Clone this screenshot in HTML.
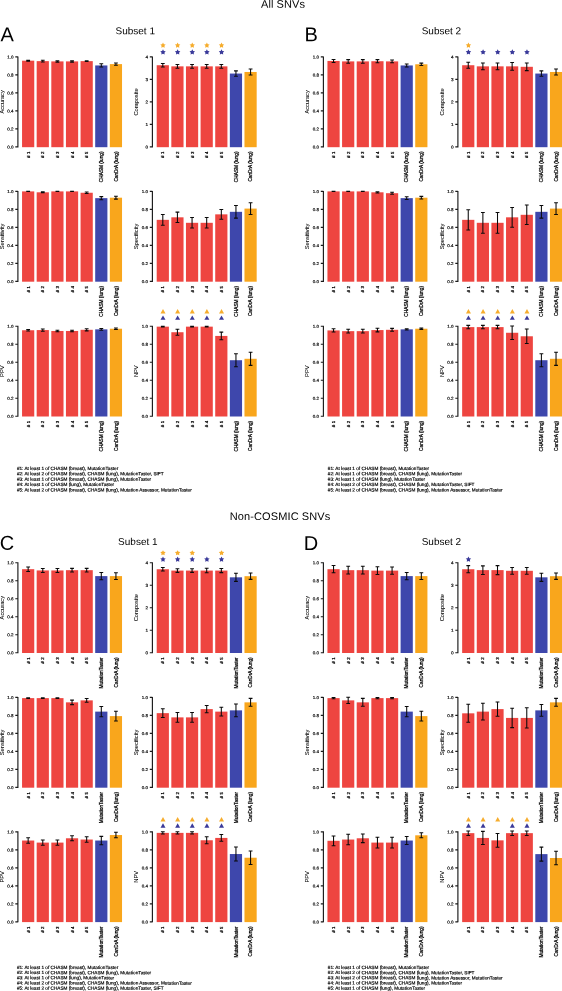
<!DOCTYPE html>
<html><head><meta charset="utf-8"><title>Figure</title>
<style>
html,body{margin:0;padding:0;background:#fff;}
svg{display:block}
svg text{font-family:"Liberation Sans",sans-serif;fill:#000;}
</style></head><body>
<svg width="562" height="991" viewBox="0 0 562 991">
<rect width="562" height="991" fill="#fff"/>
<rect x="22.05" y="60.68" width="12.2" height="86.52" fill="#ee4540"/>
<path d="M28.15 60.23V61.13M26.25 60.23h3.8M26.25 61.13h3.8" stroke="#0a0a0a" stroke-width="1.05" fill="none"/>
<rect x="36.68" y="61.13" width="12.2" height="86.07" fill="#ee4540"/>
<path d="M42.78 60.23V62.03M40.88 60.23h3.8M40.88 62.03h3.8" stroke="#0a0a0a" stroke-width="1.05" fill="none"/>
<rect x="51.31" y="61.40" width="12.2" height="85.80" fill="#ee4540"/>
<path d="M57.41 60.68V62.12M55.51 60.68h3.8M55.51 62.12h3.8" stroke="#0a0a0a" stroke-width="1.05" fill="none"/>
<rect x="65.94" y="61.40" width="12.2" height="85.80" fill="#ee4540"/>
<path d="M72.04 60.68V62.12M70.14 60.68h3.8M70.14 62.12h3.8" stroke="#0a0a0a" stroke-width="1.05" fill="none"/>
<rect x="80.57" y="61.13" width="12.2" height="86.07" fill="#ee4540"/>
<path d="M86.67 60.68V61.58M84.77 60.68h3.8M84.77 61.58h3.8" stroke="#0a0a0a" stroke-width="1.05" fill="none"/>
<rect x="95.20" y="65.45" width="12.2" height="81.75" fill="#3e47ac"/>
<path d="M101.30 63.83V67.07M99.40 63.83h3.8M99.40 67.07h3.8" stroke="#0a0a0a" stroke-width="1.05" fill="none"/>
<rect x="109.83" y="64.10" width="12.2" height="83.10" fill="#f9a61c"/>
<path d="M115.93 62.93V65.27M114.03 62.93h3.8M114.03 65.27h3.8" stroke="#0a0a0a" stroke-width="1.05" fill="none"/>
<text x="13.50" y="148.50" font-size="4.15" text-anchor="end" transform="rotate(0.03 13.50 148.50)" fill="#000" stroke="#000" stroke-width="0.16" textLength="6.3" lengthAdjust="spacingAndGlyphs">0.0</text>
<text x="13.50" y="130.50" font-size="4.15" text-anchor="end" transform="rotate(0.03 13.50 130.50)" fill="#000" stroke="#000" stroke-width="0.16" textLength="6.3" lengthAdjust="spacingAndGlyphs">0.2</text>
<text x="13.50" y="112.50" font-size="4.15" text-anchor="end" transform="rotate(0.03 13.50 112.50)" fill="#000" stroke="#000" stroke-width="0.16" textLength="6.3" lengthAdjust="spacingAndGlyphs">0.4</text>
<text x="13.50" y="94.50" font-size="4.15" text-anchor="end" transform="rotate(0.03 13.50 94.50)" fill="#000" stroke="#000" stroke-width="0.16" textLength="6.3" lengthAdjust="spacingAndGlyphs">0.6</text>
<text x="13.50" y="76.50" font-size="4.15" text-anchor="end" transform="rotate(0.03 13.50 76.50)" fill="#000" stroke="#000" stroke-width="0.16" textLength="6.3" lengthAdjust="spacingAndGlyphs">0.8</text>
<text x="13.50" y="58.50" font-size="4.15" text-anchor="end" transform="rotate(0.03 13.50 58.50)" fill="#000" stroke="#000" stroke-width="0.16" textLength="6.3" lengthAdjust="spacingAndGlyphs">1.0</text>
<path d="M17.90 56.40V147.40M15.30 146.90H17.90M15.30 128.90H17.90M15.30 110.90H17.90M15.30 92.90H17.90M15.30 74.90H17.90M15.30 56.90H17.90" stroke="#1a1a1a" stroke-width="1.15" fill="none"/>
<text x="4.00" y="101.90" font-size="5.7" text-anchor="middle" transform="rotate(-90 4.00 101.90)" stroke="#000" stroke-width="0.06">Accuracy</text>
<text x="29.70" y="157.90" font-size="4.4" text-anchor="start" transform="rotate(-90 29.70 157.90)" stroke="#000" stroke-width="0.24" textLength="6.3" lengthAdjust="spacing">#1</text>
<text x="44.33" y="157.90" font-size="4.4" text-anchor="start" transform="rotate(-90 44.33 157.90)" stroke="#000" stroke-width="0.24" textLength="6.3" lengthAdjust="spacing">#2</text>
<text x="58.96" y="157.90" font-size="4.4" text-anchor="start" transform="rotate(-90 58.96 157.90)" stroke="#000" stroke-width="0.24" textLength="6.3" lengthAdjust="spacing">#3</text>
<text x="73.59" y="157.90" font-size="4.4" text-anchor="start" transform="rotate(-90 73.59 157.90)" stroke="#000" stroke-width="0.24" textLength="6.3" lengthAdjust="spacing">#4</text>
<text x="88.22" y="157.90" font-size="4.4" text-anchor="start" transform="rotate(-90 88.22 157.90)" stroke="#000" stroke-width="0.24" textLength="6.3" lengthAdjust="spacing">#5</text>
<text x="103.00" y="151.50" font-size="4.75" text-anchor="end" transform="rotate(-90 103.00 151.50)" stroke="#000" stroke-width="0.24">CHASM (lung)</text>
<text x="117.63" y="151.50" font-size="4.75" text-anchor="end" transform="rotate(-90 117.63 151.50)" stroke="#000" stroke-width="0.24">CanDrA (lung)</text>
<rect x="156.70" y="65.23" width="12.2" height="81.97" fill="#ee4540"/>
<path d="M162.80 63.43V67.03M160.90 63.43h3.8M160.90 67.03h3.8" stroke="#0a0a0a" stroke-width="1.05" fill="none"/>
<rect x="171.33" y="66.35" width="12.2" height="80.85" fill="#ee4540"/>
<path d="M177.43 64.55V68.15M175.53 64.55h3.8M175.53 68.15h3.8" stroke="#0a0a0a" stroke-width="1.05" fill="none"/>
<rect x="185.96" y="66.35" width="12.2" height="80.85" fill="#ee4540"/>
<path d="M192.06 64.55V68.15M190.16 64.55h3.8M190.16 68.15h3.8" stroke="#0a0a0a" stroke-width="1.05" fill="none"/>
<rect x="200.59" y="66.35" width="12.2" height="80.85" fill="#ee4540"/>
<path d="M206.69 64.55V68.15M204.79 64.55h3.8M204.79 68.15h3.8" stroke="#0a0a0a" stroke-width="1.05" fill="none"/>
<rect x="215.22" y="66.35" width="12.2" height="80.85" fill="#ee4540"/>
<path d="M221.32 64.55V68.15M219.42 64.55h3.8M219.42 68.15h3.8" stroke="#0a0a0a" stroke-width="1.05" fill="none"/>
<rect x="229.85" y="73.55" width="12.2" height="73.65" fill="#3e47ac"/>
<path d="M235.95 70.85V76.25M234.05 70.85h3.8M234.05 76.25h3.8" stroke="#0a0a0a" stroke-width="1.05" fill="none"/>
<rect x="244.48" y="71.98" width="12.2" height="75.22" fill="#f9a61c"/>
<path d="M250.58 69.05V74.90M248.68 69.05h3.8M248.68 74.90h3.8" stroke="#0a0a0a" stroke-width="1.05" fill="none"/>
<text x="148.00" y="148.50" font-size="4.15" text-anchor="end" transform="rotate(0.03 148.00 148.50)" fill="#000" stroke="#000" stroke-width="0.16" textLength="2.6" lengthAdjust="spacingAndGlyphs">0</text>
<text x="148.00" y="126.00" font-size="4.15" text-anchor="end" transform="rotate(0.03 148.00 126.00)" fill="#000" stroke="#000" stroke-width="0.16" textLength="2.6" lengthAdjust="spacingAndGlyphs">1</text>
<text x="148.00" y="103.50" font-size="4.15" text-anchor="end" transform="rotate(0.03 148.00 103.50)" fill="#000" stroke="#000" stroke-width="0.16" textLength="2.6" lengthAdjust="spacingAndGlyphs">2</text>
<text x="148.00" y="81.00" font-size="4.15" text-anchor="end" transform="rotate(0.03 148.00 81.00)" fill="#000" stroke="#000" stroke-width="0.16" textLength="2.6" lengthAdjust="spacingAndGlyphs">3</text>
<text x="148.00" y="58.50" font-size="4.15" text-anchor="end" transform="rotate(0.03 148.00 58.50)" fill="#000" stroke="#000" stroke-width="0.16" textLength="2.6" lengthAdjust="spacingAndGlyphs">4</text>
<path d="M152.40 56.40V147.40M149.80 146.90H152.40M149.80 124.40H152.40M149.80 101.90H152.40M149.80 79.40H152.40M149.80 56.90H152.40" stroke="#1a1a1a" stroke-width="1.15" fill="none"/>
<text x="138.50" y="101.90" font-size="5.7" text-anchor="middle" transform="rotate(-90 138.50 101.90)" stroke="#000" stroke-width="0.06">Composite</text>
<text x="164.35" y="157.90" font-size="4.4" text-anchor="start" transform="rotate(-90 164.35 157.90)" stroke="#000" stroke-width="0.24" textLength="6.3" lengthAdjust="spacing">#1</text>
<text x="178.98" y="157.90" font-size="4.4" text-anchor="start" transform="rotate(-90 178.98 157.90)" stroke="#000" stroke-width="0.24" textLength="6.3" lengthAdjust="spacing">#2</text>
<text x="193.61" y="157.90" font-size="4.4" text-anchor="start" transform="rotate(-90 193.61 157.90)" stroke="#000" stroke-width="0.24" textLength="6.3" lengthAdjust="spacing">#3</text>
<text x="208.24" y="157.90" font-size="4.4" text-anchor="start" transform="rotate(-90 208.24 157.90)" stroke="#000" stroke-width="0.24" textLength="6.3" lengthAdjust="spacing">#4</text>
<text x="222.87" y="157.90" font-size="4.4" text-anchor="start" transform="rotate(-90 222.87 157.90)" stroke="#000" stroke-width="0.24" textLength="6.3" lengthAdjust="spacing">#5</text>
<text x="237.65" y="151.50" font-size="4.75" text-anchor="end" transform="rotate(-90 237.65 151.50)" stroke="#000" stroke-width="0.24">CHASM (lung)</text>
<text x="252.28" y="151.50" font-size="4.75" text-anchor="end" transform="rotate(-90 252.28 151.50)" stroke="#000" stroke-width="0.24">CanDrA (lung)</text>
<polygon points="163.00,42.55 163.88,44.19 165.71,44.52 164.43,45.86 164.68,47.71 163.00,46.90 161.32,47.71 161.57,45.86 160.29,44.52 162.12,44.19" fill="#f6ad2e"/>
<polygon points="177.63,42.55 178.51,44.19 180.34,44.52 179.06,45.86 179.31,47.71 177.63,46.90 175.95,47.71 176.20,45.86 174.92,44.52 176.75,44.19" fill="#f6ad2e"/>
<polygon points="192.26,42.55 193.14,44.19 194.97,44.52 193.69,45.86 193.94,47.71 192.26,46.90 190.58,47.71 190.83,45.86 189.55,44.52 191.38,44.19" fill="#f6ad2e"/>
<polygon points="206.89,42.55 207.77,44.19 209.60,44.52 208.32,45.86 208.57,47.71 206.89,46.90 205.21,47.71 205.46,45.86 204.18,44.52 206.01,44.19" fill="#f6ad2e"/>
<polygon points="221.52,42.55 222.40,44.19 224.23,44.52 222.95,45.86 223.20,47.71 221.52,46.90 219.84,47.71 220.09,45.86 218.81,44.52 220.64,44.19" fill="#f6ad2e"/>
<polygon points="163.00,49.35 163.88,50.99 165.71,51.32 164.43,52.66 164.68,54.51 163.00,53.70 161.32,54.51 161.57,52.66 160.29,51.32 162.12,50.99" fill="#3a3a9a"/>
<polygon points="177.63,49.35 178.51,50.99 180.34,51.32 179.06,52.66 179.31,54.51 177.63,53.70 175.95,54.51 176.20,52.66 174.92,51.32 176.75,50.99" fill="#3a3a9a"/>
<polygon points="192.26,49.35 193.14,50.99 194.97,51.32 193.69,52.66 193.94,54.51 192.26,53.70 190.58,54.51 190.83,52.66 189.55,51.32 191.38,50.99" fill="#3a3a9a"/>
<polygon points="206.89,49.35 207.77,50.99 209.60,51.32 208.32,52.66 208.57,54.51 206.89,53.70 205.21,54.51 205.46,52.66 204.18,51.32 206.01,50.99" fill="#3a3a9a"/>
<polygon points="221.52,49.35 222.40,50.99 224.23,51.32 222.95,52.66 223.20,54.51 221.52,53.70 219.84,54.51 220.09,52.66 218.81,51.32 220.64,50.99" fill="#3a3a9a"/>
<rect x="22.05" y="191.40" width="12.2" height="90.30" fill="#ee4540"/>
<path d="M28.15 191.22V191.58M26.25 191.22h3.8M26.25 191.58h3.8" stroke="#0a0a0a" stroke-width="1.05" fill="none"/>
<rect x="36.68" y="192.30" width="12.2" height="89.40" fill="#ee4540"/>
<path d="M42.78 191.85V192.75M40.88 191.85h3.8M40.88 192.75h3.8" stroke="#0a0a0a" stroke-width="1.05" fill="none"/>
<rect x="51.31" y="191.40" width="12.2" height="90.30" fill="#ee4540"/>
<path d="M57.41 191.22V191.58M55.51 191.22h3.8M55.51 191.58h3.8" stroke="#0a0a0a" stroke-width="1.05" fill="none"/>
<rect x="65.94" y="191.40" width="12.2" height="90.30" fill="#ee4540"/>
<path d="M72.04 191.22V191.58M70.14 191.22h3.8M70.14 191.58h3.8" stroke="#0a0a0a" stroke-width="1.05" fill="none"/>
<rect x="80.57" y="192.75" width="12.2" height="88.95" fill="#ee4540"/>
<path d="M86.67 192.03V193.47M84.77 192.03h3.8M84.77 193.47h3.8" stroke="#0a0a0a" stroke-width="1.05" fill="none"/>
<rect x="95.20" y="198.15" width="12.2" height="83.55" fill="#3e47ac"/>
<path d="M101.30 196.62V199.68M99.40 196.62h3.8M99.40 199.68h3.8" stroke="#0a0a0a" stroke-width="1.05" fill="none"/>
<rect x="109.83" y="197.70" width="12.2" height="84.00" fill="#f9a61c"/>
<path d="M115.93 196.26V199.14M114.03 196.26h3.8M114.03 199.14h3.8" stroke="#0a0a0a" stroke-width="1.05" fill="none"/>
<text x="13.50" y="283.00" font-size="4.15" text-anchor="end" transform="rotate(0.03 13.50 283.00)" fill="#000" stroke="#000" stroke-width="0.16" textLength="6.3" lengthAdjust="spacingAndGlyphs">0.0</text>
<text x="13.50" y="265.00" font-size="4.15" text-anchor="end" transform="rotate(0.03 13.50 265.00)" fill="#000" stroke="#000" stroke-width="0.16" textLength="6.3" lengthAdjust="spacingAndGlyphs">0.2</text>
<text x="13.50" y="247.00" font-size="4.15" text-anchor="end" transform="rotate(0.03 13.50 247.00)" fill="#000" stroke="#000" stroke-width="0.16" textLength="6.3" lengthAdjust="spacingAndGlyphs">0.4</text>
<text x="13.50" y="229.00" font-size="4.15" text-anchor="end" transform="rotate(0.03 13.50 229.00)" fill="#000" stroke="#000" stroke-width="0.16" textLength="6.3" lengthAdjust="spacingAndGlyphs">0.6</text>
<text x="13.50" y="211.00" font-size="4.15" text-anchor="end" transform="rotate(0.03 13.50 211.00)" fill="#000" stroke="#000" stroke-width="0.16" textLength="6.3" lengthAdjust="spacingAndGlyphs">0.8</text>
<text x="13.50" y="193.00" font-size="4.15" text-anchor="end" transform="rotate(0.03 13.50 193.00)" fill="#000" stroke="#000" stroke-width="0.16" textLength="6.3" lengthAdjust="spacingAndGlyphs">1.0</text>
<path d="M17.90 190.90V281.90M15.30 281.40H17.90M15.30 263.40H17.90M15.30 245.40H17.90M15.30 227.40H17.90M15.30 209.40H17.90M15.30 191.40H17.90" stroke="#1a1a1a" stroke-width="1.15" fill="none"/>
<text x="4.00" y="236.40" font-size="5.7" text-anchor="middle" transform="rotate(-90 4.00 236.40)" stroke="#000" stroke-width="0.06">Sensitivity</text>
<text x="29.70" y="292.40" font-size="4.4" text-anchor="start" transform="rotate(-90 29.70 292.40)" stroke="#000" stroke-width="0.24" textLength="6.3" lengthAdjust="spacing">#1</text>
<text x="44.33" y="292.40" font-size="4.4" text-anchor="start" transform="rotate(-90 44.33 292.40)" stroke="#000" stroke-width="0.24" textLength="6.3" lengthAdjust="spacing">#2</text>
<text x="58.96" y="292.40" font-size="4.4" text-anchor="start" transform="rotate(-90 58.96 292.40)" stroke="#000" stroke-width="0.24" textLength="6.3" lengthAdjust="spacing">#3</text>
<text x="73.59" y="292.40" font-size="4.4" text-anchor="start" transform="rotate(-90 73.59 292.40)" stroke="#000" stroke-width="0.24" textLength="6.3" lengthAdjust="spacing">#4</text>
<text x="88.22" y="292.40" font-size="4.4" text-anchor="start" transform="rotate(-90 88.22 292.40)" stroke="#000" stroke-width="0.24" textLength="6.3" lengthAdjust="spacing">#5</text>
<text x="103.00" y="286.00" font-size="4.75" text-anchor="end" transform="rotate(-90 103.00 286.00)" stroke="#000" stroke-width="0.24">CHASM (lung)</text>
<text x="117.63" y="286.00" font-size="4.75" text-anchor="end" transform="rotate(-90 117.63 286.00)" stroke="#000" stroke-width="0.24">CanDrA (lung)</text>
<rect x="156.70" y="219.84" width="12.2" height="61.86" fill="#ee4540"/>
<path d="M162.80 214.44V225.24M160.90 214.44h3.8M160.90 225.24h3.8" stroke="#0a0a0a" stroke-width="1.05" fill="none"/>
<rect x="171.33" y="217.32" width="12.2" height="64.38" fill="#ee4540"/>
<path d="M177.43 212.10V222.54M175.53 212.10h3.8M175.53 222.54h3.8" stroke="#0a0a0a" stroke-width="1.05" fill="none"/>
<rect x="185.96" y="222.81" width="12.2" height="58.89" fill="#ee4540"/>
<path d="M192.06 217.59V228.03M190.16 217.59h3.8M190.16 228.03h3.8" stroke="#0a0a0a" stroke-width="1.05" fill="none"/>
<rect x="200.59" y="222.81" width="12.2" height="58.89" fill="#ee4540"/>
<path d="M206.69 217.59V228.03M204.79 217.59h3.8M204.79 228.03h3.8" stroke="#0a0a0a" stroke-width="1.05" fill="none"/>
<rect x="215.22" y="214.35" width="12.2" height="67.35" fill="#ee4540"/>
<path d="M221.32 209.49V219.21M219.42 209.49h3.8M219.42 219.21h3.8" stroke="#0a0a0a" stroke-width="1.05" fill="none"/>
<rect x="229.85" y="211.83" width="12.2" height="69.87" fill="#3e47ac"/>
<path d="M235.95 205.53V218.13M234.05 205.53h3.8M234.05 218.13h3.8" stroke="#0a0a0a" stroke-width="1.05" fill="none"/>
<rect x="244.48" y="208.59" width="12.2" height="73.11" fill="#f9a61c"/>
<path d="M250.58 202.65V214.53M248.68 202.65h3.8M248.68 214.53h3.8" stroke="#0a0a0a" stroke-width="1.05" fill="none"/>
<text x="148.00" y="283.00" font-size="4.15" text-anchor="end" transform="rotate(0.03 148.00 283.00)" fill="#000" stroke="#000" stroke-width="0.16" textLength="6.3" lengthAdjust="spacingAndGlyphs">0.0</text>
<text x="148.00" y="265.00" font-size="4.15" text-anchor="end" transform="rotate(0.03 148.00 265.00)" fill="#000" stroke="#000" stroke-width="0.16" textLength="6.3" lengthAdjust="spacingAndGlyphs">0.2</text>
<text x="148.00" y="247.00" font-size="4.15" text-anchor="end" transform="rotate(0.03 148.00 247.00)" fill="#000" stroke="#000" stroke-width="0.16" textLength="6.3" lengthAdjust="spacingAndGlyphs">0.4</text>
<text x="148.00" y="229.00" font-size="4.15" text-anchor="end" transform="rotate(0.03 148.00 229.00)" fill="#000" stroke="#000" stroke-width="0.16" textLength="6.3" lengthAdjust="spacingAndGlyphs">0.6</text>
<text x="148.00" y="211.00" font-size="4.15" text-anchor="end" transform="rotate(0.03 148.00 211.00)" fill="#000" stroke="#000" stroke-width="0.16" textLength="6.3" lengthAdjust="spacingAndGlyphs">0.8</text>
<text x="148.00" y="193.00" font-size="4.15" text-anchor="end" transform="rotate(0.03 148.00 193.00)" fill="#000" stroke="#000" stroke-width="0.16" textLength="6.3" lengthAdjust="spacingAndGlyphs">1.0</text>
<path d="M152.40 190.90V281.90M149.80 281.40H152.40M149.80 263.40H152.40M149.80 245.40H152.40M149.80 227.40H152.40M149.80 209.40H152.40M149.80 191.40H152.40" stroke="#1a1a1a" stroke-width="1.15" fill="none"/>
<text x="138.50" y="236.40" font-size="5.7" text-anchor="middle" transform="rotate(-90 138.50 236.40)" stroke="#000" stroke-width="0.06">Specificity</text>
<text x="164.35" y="292.40" font-size="4.4" text-anchor="start" transform="rotate(-90 164.35 292.40)" stroke="#000" stroke-width="0.24" textLength="6.3" lengthAdjust="spacing">#1</text>
<text x="178.98" y="292.40" font-size="4.4" text-anchor="start" transform="rotate(-90 178.98 292.40)" stroke="#000" stroke-width="0.24" textLength="6.3" lengthAdjust="spacing">#2</text>
<text x="193.61" y="292.40" font-size="4.4" text-anchor="start" transform="rotate(-90 193.61 292.40)" stroke="#000" stroke-width="0.24" textLength="6.3" lengthAdjust="spacing">#3</text>
<text x="208.24" y="292.40" font-size="4.4" text-anchor="start" transform="rotate(-90 208.24 292.40)" stroke="#000" stroke-width="0.24" textLength="6.3" lengthAdjust="spacing">#4</text>
<text x="222.87" y="292.40" font-size="4.4" text-anchor="start" transform="rotate(-90 222.87 292.40)" stroke="#000" stroke-width="0.24" textLength="6.3" lengthAdjust="spacing">#5</text>
<text x="237.65" y="286.00" font-size="4.75" text-anchor="end" transform="rotate(-90 237.65 286.00)" stroke="#000" stroke-width="0.24">CHASM (lung)</text>
<text x="252.28" y="286.00" font-size="4.75" text-anchor="end" transform="rotate(-90 252.28 286.00)" stroke="#000" stroke-width="0.24">CanDrA (lung)</text>
<rect x="22.05" y="330.25" width="12.2" height="86.25" fill="#ee4540"/>
<path d="M28.15 329.53V330.97M26.25 329.53h3.8M26.25 330.97h3.8" stroke="#0a0a0a" stroke-width="1.05" fill="none"/>
<rect x="36.68" y="330.07" width="12.2" height="86.43" fill="#ee4540"/>
<path d="M42.78 328.99V331.15M40.88 328.99h3.8M40.88 331.15h3.8" stroke="#0a0a0a" stroke-width="1.05" fill="none"/>
<rect x="51.31" y="330.97" width="12.2" height="85.53" fill="#ee4540"/>
<path d="M57.41 330.25V331.69M55.51 330.25h3.8M55.51 331.69h3.8" stroke="#0a0a0a" stroke-width="1.05" fill="none"/>
<rect x="65.94" y="330.97" width="12.2" height="85.53" fill="#ee4540"/>
<path d="M72.04 330.25V331.69M70.14 330.25h3.8M70.14 331.69h3.8" stroke="#0a0a0a" stroke-width="1.05" fill="none"/>
<rect x="80.57" y="329.80" width="12.2" height="86.70" fill="#ee4540"/>
<path d="M86.67 328.72V330.88M84.77 328.72h3.8M84.77 330.88h3.8" stroke="#0a0a0a" stroke-width="1.05" fill="none"/>
<rect x="95.20" y="329.35" width="12.2" height="87.15" fill="#3e47ac"/>
<path d="M101.30 328.45V330.25M99.40 328.45h3.8M99.40 330.25h3.8" stroke="#0a0a0a" stroke-width="1.05" fill="none"/>
<rect x="109.83" y="328.72" width="12.2" height="87.78" fill="#f9a61c"/>
<path d="M115.93 328.00V329.44M114.03 328.00h3.8M114.03 329.44h3.8" stroke="#0a0a0a" stroke-width="1.05" fill="none"/>
<text x="13.50" y="417.80" font-size="4.15" text-anchor="end" transform="rotate(0.03 13.50 417.80)" fill="#000" stroke="#000" stroke-width="0.16" textLength="6.3" lengthAdjust="spacingAndGlyphs">0.0</text>
<text x="13.50" y="399.80" font-size="4.15" text-anchor="end" transform="rotate(0.03 13.50 399.80)" fill="#000" stroke="#000" stroke-width="0.16" textLength="6.3" lengthAdjust="spacingAndGlyphs">0.2</text>
<text x="13.50" y="381.80" font-size="4.15" text-anchor="end" transform="rotate(0.03 13.50 381.80)" fill="#000" stroke="#000" stroke-width="0.16" textLength="6.3" lengthAdjust="spacingAndGlyphs">0.4</text>
<text x="13.50" y="363.80" font-size="4.15" text-anchor="end" transform="rotate(0.03 13.50 363.80)" fill="#000" stroke="#000" stroke-width="0.16" textLength="6.3" lengthAdjust="spacingAndGlyphs">0.6</text>
<text x="13.50" y="345.80" font-size="4.15" text-anchor="end" transform="rotate(0.03 13.50 345.80)" fill="#000" stroke="#000" stroke-width="0.16" textLength="6.3" lengthAdjust="spacingAndGlyphs">0.8</text>
<text x="13.50" y="327.80" font-size="4.15" text-anchor="end" transform="rotate(0.03 13.50 327.80)" fill="#000" stroke="#000" stroke-width="0.16" textLength="6.3" lengthAdjust="spacingAndGlyphs">1.0</text>
<path d="M17.90 325.70V416.70M15.30 416.20H17.90M15.30 398.20H17.90M15.30 380.20H17.90M15.30 362.20H17.90M15.30 344.20H17.90M15.30 326.20H17.90" stroke="#1a1a1a" stroke-width="1.15" fill="none"/>
<text x="4.00" y="371.20" font-size="5.7" text-anchor="middle" transform="rotate(-90 4.00 371.20)" stroke="#000" stroke-width="0.06">PPV</text>
<text x="29.70" y="427.20" font-size="4.4" text-anchor="start" transform="rotate(-90 29.70 427.20)" stroke="#000" stroke-width="0.24" textLength="6.3" lengthAdjust="spacing">#1</text>
<text x="44.33" y="427.20" font-size="4.4" text-anchor="start" transform="rotate(-90 44.33 427.20)" stroke="#000" stroke-width="0.24" textLength="6.3" lengthAdjust="spacing">#2</text>
<text x="58.96" y="427.20" font-size="4.4" text-anchor="start" transform="rotate(-90 58.96 427.20)" stroke="#000" stroke-width="0.24" textLength="6.3" lengthAdjust="spacing">#3</text>
<text x="73.59" y="427.20" font-size="4.4" text-anchor="start" transform="rotate(-90 73.59 427.20)" stroke="#000" stroke-width="0.24" textLength="6.3" lengthAdjust="spacing">#4</text>
<text x="88.22" y="427.20" font-size="4.4" text-anchor="start" transform="rotate(-90 88.22 427.20)" stroke="#000" stroke-width="0.24" textLength="6.3" lengthAdjust="spacing">#5</text>
<text x="103.00" y="420.80" font-size="4.75" text-anchor="end" transform="rotate(-90 103.00 420.80)" stroke="#000" stroke-width="0.24">CHASM (lung)</text>
<text x="117.63" y="420.80" font-size="4.75" text-anchor="end" transform="rotate(-90 117.63 420.80)" stroke="#000" stroke-width="0.24">CanDrA (lung)</text>
<rect x="156.70" y="326.65" width="12.2" height="89.85" fill="#ee4540"/>
<path d="M162.80 326.29V327.01M160.90 326.29h3.8M160.90 327.01h3.8" stroke="#0a0a0a" stroke-width="1.05" fill="none"/>
<rect x="171.33" y="332.23" width="12.2" height="84.27" fill="#ee4540"/>
<path d="M177.43 329.26V335.20M175.53 329.26h3.8M175.53 335.20h3.8" stroke="#0a0a0a" stroke-width="1.05" fill="none"/>
<rect x="185.96" y="326.65" width="12.2" height="89.85" fill="#ee4540"/>
<path d="M192.06 326.29V327.01M190.16 326.29h3.8M190.16 327.01h3.8" stroke="#0a0a0a" stroke-width="1.05" fill="none"/>
<rect x="200.59" y="326.65" width="12.2" height="89.85" fill="#ee4540"/>
<path d="M206.69 326.29V327.01M204.79 326.29h3.8M204.79 327.01h3.8" stroke="#0a0a0a" stroke-width="1.05" fill="none"/>
<rect x="215.22" y="335.92" width="12.2" height="80.58" fill="#ee4540"/>
<path d="M221.32 332.14V339.70M219.42 332.14h3.8M219.42 339.70h3.8" stroke="#0a0a0a" stroke-width="1.05" fill="none"/>
<rect x="229.85" y="360.22" width="12.2" height="56.28" fill="#3e47ac"/>
<path d="M235.95 353.65V366.79M234.05 353.65h3.8M234.05 366.79h3.8" stroke="#0a0a0a" stroke-width="1.05" fill="none"/>
<rect x="244.48" y="358.78" width="12.2" height="57.72" fill="#f9a61c"/>
<path d="M250.58 352.21V365.35M248.68 352.21h3.8M248.68 365.35h3.8" stroke="#0a0a0a" stroke-width="1.05" fill="none"/>
<text x="148.00" y="417.80" font-size="4.15" text-anchor="end" transform="rotate(0.03 148.00 417.80)" fill="#000" stroke="#000" stroke-width="0.16" textLength="6.3" lengthAdjust="spacingAndGlyphs">0.0</text>
<text x="148.00" y="399.80" font-size="4.15" text-anchor="end" transform="rotate(0.03 148.00 399.80)" fill="#000" stroke="#000" stroke-width="0.16" textLength="6.3" lengthAdjust="spacingAndGlyphs">0.2</text>
<text x="148.00" y="381.80" font-size="4.15" text-anchor="end" transform="rotate(0.03 148.00 381.80)" fill="#000" stroke="#000" stroke-width="0.16" textLength="6.3" lengthAdjust="spacingAndGlyphs">0.4</text>
<text x="148.00" y="363.80" font-size="4.15" text-anchor="end" transform="rotate(0.03 148.00 363.80)" fill="#000" stroke="#000" stroke-width="0.16" textLength="6.3" lengthAdjust="spacingAndGlyphs">0.6</text>
<text x="148.00" y="345.80" font-size="4.15" text-anchor="end" transform="rotate(0.03 148.00 345.80)" fill="#000" stroke="#000" stroke-width="0.16" textLength="6.3" lengthAdjust="spacingAndGlyphs">0.8</text>
<text x="148.00" y="327.80" font-size="4.15" text-anchor="end" transform="rotate(0.03 148.00 327.80)" fill="#000" stroke="#000" stroke-width="0.16" textLength="6.3" lengthAdjust="spacingAndGlyphs">1.0</text>
<path d="M152.40 325.70V416.70M149.80 416.20H152.40M149.80 398.20H152.40M149.80 380.20H152.40M149.80 362.20H152.40M149.80 344.20H152.40M149.80 326.20H152.40" stroke="#1a1a1a" stroke-width="1.15" fill="none"/>
<text x="138.50" y="371.20" font-size="5.7" text-anchor="middle" transform="rotate(-90 138.50 371.20)" stroke="#000" stroke-width="0.06">NPV</text>
<text x="164.35" y="427.20" font-size="4.4" text-anchor="start" transform="rotate(-90 164.35 427.20)" stroke="#000" stroke-width="0.24" textLength="6.3" lengthAdjust="spacing">#1</text>
<text x="178.98" y="427.20" font-size="4.4" text-anchor="start" transform="rotate(-90 178.98 427.20)" stroke="#000" stroke-width="0.24" textLength="6.3" lengthAdjust="spacing">#2</text>
<text x="193.61" y="427.20" font-size="4.4" text-anchor="start" transform="rotate(-90 193.61 427.20)" stroke="#000" stroke-width="0.24" textLength="6.3" lengthAdjust="spacing">#3</text>
<text x="208.24" y="427.20" font-size="4.4" text-anchor="start" transform="rotate(-90 208.24 427.20)" stroke="#000" stroke-width="0.24" textLength="6.3" lengthAdjust="spacing">#4</text>
<text x="222.87" y="427.20" font-size="4.4" text-anchor="start" transform="rotate(-90 222.87 427.20)" stroke="#000" stroke-width="0.24" textLength="6.3" lengthAdjust="spacing">#5</text>
<text x="237.65" y="420.80" font-size="4.75" text-anchor="end" transform="rotate(-90 237.65 420.80)" stroke="#000" stroke-width="0.24">CHASM (lung)</text>
<text x="252.28" y="420.80" font-size="4.75" text-anchor="end" transform="rotate(-90 252.28 420.80)" stroke="#000" stroke-width="0.24">CanDrA (lung)</text>
<polygon points="163.00,309.10 165.50,313.50 160.50,313.50" fill="#f6ad2e"/>
<polygon points="177.63,309.10 180.13,313.50 175.13,313.50" fill="#f6ad2e"/>
<polygon points="192.26,309.10 194.76,313.50 189.76,313.50" fill="#f6ad2e"/>
<polygon points="206.89,309.10 209.39,313.50 204.39,313.50" fill="#f6ad2e"/>
<polygon points="221.52,309.10 224.02,313.50 219.02,313.50" fill="#f6ad2e"/>
<polygon points="163.00,315.40 165.50,319.80 160.50,319.80" fill="#3a3a9a"/>
<polygon points="177.63,315.40 180.13,319.80 175.13,319.80" fill="#3a3a9a"/>
<polygon points="192.26,315.40 194.76,319.80 189.76,319.80" fill="#3a3a9a"/>
<polygon points="206.89,315.40 209.39,319.80 204.39,319.80" fill="#3a3a9a"/>
<polygon points="221.52,315.40 224.02,319.80 219.02,319.80" fill="#3a3a9a"/>
<rect x="327.45" y="60.95" width="12.2" height="86.25" fill="#ee4540"/>
<path d="M333.55 59.42V62.48M331.65 59.42h3.8M331.65 62.48h3.8" stroke="#0a0a0a" stroke-width="1.05" fill="none"/>
<rect x="342.08" y="61.40" width="12.2" height="85.80" fill="#ee4540"/>
<path d="M348.18 59.60V63.20M346.28 59.60h3.8M346.28 63.20h3.8" stroke="#0a0a0a" stroke-width="1.05" fill="none"/>
<rect x="356.71" y="61.40" width="12.2" height="85.80" fill="#ee4540"/>
<path d="M362.81 59.60V63.20M360.91 59.60h3.8M360.91 63.20h3.8" stroke="#0a0a0a" stroke-width="1.05" fill="none"/>
<rect x="371.34" y="61.22" width="12.2" height="85.98" fill="#ee4540"/>
<path d="M377.44 59.60V62.84M375.54 59.60h3.8M375.54 62.84h3.8" stroke="#0a0a0a" stroke-width="1.05" fill="none"/>
<rect x="385.97" y="61.40" width="12.2" height="85.80" fill="#ee4540"/>
<path d="M392.07 59.96V62.84M390.17 59.96h3.8M390.17 62.84h3.8" stroke="#0a0a0a" stroke-width="1.05" fill="none"/>
<rect x="400.60" y="65.45" width="12.2" height="81.75" fill="#3e47ac"/>
<path d="M406.70 63.92V66.98M404.80 63.92h3.8M404.80 66.98h3.8" stroke="#0a0a0a" stroke-width="1.05" fill="none"/>
<rect x="415.23" y="64.28" width="12.2" height="82.92" fill="#f9a61c"/>
<path d="M421.33 63.11V65.45M419.43 63.11h3.8M419.43 65.45h3.8" stroke="#0a0a0a" stroke-width="1.05" fill="none"/>
<text x="319.00" y="148.50" font-size="4.15" text-anchor="end" transform="rotate(0.03 319.00 148.50)" fill="#000" stroke="#000" stroke-width="0.16" textLength="6.3" lengthAdjust="spacingAndGlyphs">0.0</text>
<text x="319.00" y="130.50" font-size="4.15" text-anchor="end" transform="rotate(0.03 319.00 130.50)" fill="#000" stroke="#000" stroke-width="0.16" textLength="6.3" lengthAdjust="spacingAndGlyphs">0.2</text>
<text x="319.00" y="112.50" font-size="4.15" text-anchor="end" transform="rotate(0.03 319.00 112.50)" fill="#000" stroke="#000" stroke-width="0.16" textLength="6.3" lengthAdjust="spacingAndGlyphs">0.4</text>
<text x="319.00" y="94.50" font-size="4.15" text-anchor="end" transform="rotate(0.03 319.00 94.50)" fill="#000" stroke="#000" stroke-width="0.16" textLength="6.3" lengthAdjust="spacingAndGlyphs">0.6</text>
<text x="319.00" y="76.50" font-size="4.15" text-anchor="end" transform="rotate(0.03 319.00 76.50)" fill="#000" stroke="#000" stroke-width="0.16" textLength="6.3" lengthAdjust="spacingAndGlyphs">0.8</text>
<text x="319.00" y="58.50" font-size="4.15" text-anchor="end" transform="rotate(0.03 319.00 58.50)" fill="#000" stroke="#000" stroke-width="0.16" textLength="6.3" lengthAdjust="spacingAndGlyphs">1.0</text>
<path d="M323.40 56.40V147.40M320.80 146.90H323.40M320.80 128.90H323.40M320.80 110.90H323.40M320.80 92.90H323.40M320.80 74.90H323.40M320.80 56.90H323.40" stroke="#1a1a1a" stroke-width="1.15" fill="none"/>
<text x="309.50" y="101.90" font-size="5.7" text-anchor="middle" transform="rotate(-90 309.50 101.90)" stroke="#000" stroke-width="0.06">Accuracy</text>
<text x="335.10" y="157.90" font-size="4.4" text-anchor="start" transform="rotate(-90 335.10 157.90)" stroke="#000" stroke-width="0.24" textLength="6.3" lengthAdjust="spacing">#1</text>
<text x="349.73" y="157.90" font-size="4.4" text-anchor="start" transform="rotate(-90 349.73 157.90)" stroke="#000" stroke-width="0.24" textLength="6.3" lengthAdjust="spacing">#2</text>
<text x="364.36" y="157.90" font-size="4.4" text-anchor="start" transform="rotate(-90 364.36 157.90)" stroke="#000" stroke-width="0.24" textLength="6.3" lengthAdjust="spacing">#3</text>
<text x="378.99" y="157.90" font-size="4.4" text-anchor="start" transform="rotate(-90 378.99 157.90)" stroke="#000" stroke-width="0.24" textLength="6.3" lengthAdjust="spacing">#4</text>
<text x="393.62" y="157.90" font-size="4.4" text-anchor="start" transform="rotate(-90 393.62 157.90)" stroke="#000" stroke-width="0.24" textLength="6.3" lengthAdjust="spacing">#5</text>
<text x="408.40" y="151.50" font-size="4.75" text-anchor="end" transform="rotate(-90 408.40 151.50)" stroke="#000" stroke-width="0.24">CHASM (lung)</text>
<text x="423.03" y="151.50" font-size="4.75" text-anchor="end" transform="rotate(-90 423.03 151.50)" stroke="#000" stroke-width="0.24">CanDrA (lung)</text>
<rect x="462.15" y="65.23" width="12.2" height="81.97" fill="#ee4540"/>
<path d="M468.25 62.17V68.29M466.35 62.17h3.8M466.35 68.29h3.8" stroke="#0a0a0a" stroke-width="1.05" fill="none"/>
<rect x="476.78" y="66.35" width="12.2" height="80.85" fill="#ee4540"/>
<path d="M482.88 62.98V69.73M480.98 62.98h3.8M480.98 69.73h3.8" stroke="#0a0a0a" stroke-width="1.05" fill="none"/>
<rect x="491.41" y="66.35" width="12.2" height="80.85" fill="#ee4540"/>
<path d="M497.51 62.98V69.73M495.61 62.98h3.8M495.61 69.73h3.8" stroke="#0a0a0a" stroke-width="1.05" fill="none"/>
<rect x="506.04" y="66.35" width="12.2" height="80.85" fill="#ee4540"/>
<path d="M512.14 62.53V70.18M510.24 62.53h3.8M510.24 70.18h3.8" stroke="#0a0a0a" stroke-width="1.05" fill="none"/>
<rect x="520.67" y="66.80" width="12.2" height="80.40" fill="#ee4540"/>
<path d="M526.77 62.98V70.63M524.87 62.98h3.8M524.87 70.63h3.8" stroke="#0a0a0a" stroke-width="1.05" fill="none"/>
<rect x="535.30" y="73.55" width="12.2" height="73.65" fill="#3e47ac"/>
<path d="M541.40 70.85V76.25M539.50 70.85h3.8M539.50 76.25h3.8" stroke="#0a0a0a" stroke-width="1.05" fill="none"/>
<rect x="549.93" y="71.98" width="12.2" height="75.22" fill="#f9a61c"/>
<path d="M556.03 69.05V74.90M554.13 69.05h3.8M554.13 74.90h3.8" stroke="#0a0a0a" stroke-width="1.05" fill="none"/>
<text x="453.50" y="148.50" font-size="4.15" text-anchor="end" transform="rotate(0.03 453.50 148.50)" fill="#000" stroke="#000" stroke-width="0.16" textLength="2.6" lengthAdjust="spacingAndGlyphs">0</text>
<text x="453.50" y="126.00" font-size="4.15" text-anchor="end" transform="rotate(0.03 453.50 126.00)" fill="#000" stroke="#000" stroke-width="0.16" textLength="2.6" lengthAdjust="spacingAndGlyphs">1</text>
<text x="453.50" y="103.50" font-size="4.15" text-anchor="end" transform="rotate(0.03 453.50 103.50)" fill="#000" stroke="#000" stroke-width="0.16" textLength="2.6" lengthAdjust="spacingAndGlyphs">2</text>
<text x="453.50" y="81.00" font-size="4.15" text-anchor="end" transform="rotate(0.03 453.50 81.00)" fill="#000" stroke="#000" stroke-width="0.16" textLength="2.6" lengthAdjust="spacingAndGlyphs">3</text>
<text x="453.50" y="58.50" font-size="4.15" text-anchor="end" transform="rotate(0.03 453.50 58.50)" fill="#000" stroke="#000" stroke-width="0.16" textLength="2.6" lengthAdjust="spacingAndGlyphs">4</text>
<path d="M457.90 56.40V147.40M455.30 146.90H457.90M455.30 124.40H457.90M455.30 101.90H457.90M455.30 79.40H457.90M455.30 56.90H457.90" stroke="#1a1a1a" stroke-width="1.15" fill="none"/>
<text x="444.00" y="101.90" font-size="5.7" text-anchor="middle" transform="rotate(-90 444.00 101.90)" stroke="#000" stroke-width="0.06">Composite</text>
<text x="469.80" y="157.90" font-size="4.4" text-anchor="start" transform="rotate(-90 469.80 157.90)" stroke="#000" stroke-width="0.24" textLength="6.3" lengthAdjust="spacing">#1</text>
<text x="484.43" y="157.90" font-size="4.4" text-anchor="start" transform="rotate(-90 484.43 157.90)" stroke="#000" stroke-width="0.24" textLength="6.3" lengthAdjust="spacing">#2</text>
<text x="499.06" y="157.90" font-size="4.4" text-anchor="start" transform="rotate(-90 499.06 157.90)" stroke="#000" stroke-width="0.24" textLength="6.3" lengthAdjust="spacing">#3</text>
<text x="513.69" y="157.90" font-size="4.4" text-anchor="start" transform="rotate(-90 513.69 157.90)" stroke="#000" stroke-width="0.24" textLength="6.3" lengthAdjust="spacing">#4</text>
<text x="528.32" y="157.90" font-size="4.4" text-anchor="start" transform="rotate(-90 528.32 157.90)" stroke="#000" stroke-width="0.24" textLength="6.3" lengthAdjust="spacing">#5</text>
<text x="543.10" y="151.50" font-size="4.75" text-anchor="end" transform="rotate(-90 543.10 151.50)" stroke="#000" stroke-width="0.24">CHASM (lung)</text>
<text x="557.73" y="151.50" font-size="4.75" text-anchor="end" transform="rotate(-90 557.73 151.50)" stroke="#000" stroke-width="0.24">CanDrA (lung)</text>
<polygon points="468.45,42.55 469.33,44.19 471.16,44.52 469.88,45.86 470.13,47.71 468.45,46.90 466.77,47.71 467.02,45.86 465.74,44.52 467.57,44.19" fill="#f6ad2e"/>
<polygon points="468.45,49.35 469.33,50.99 471.16,51.32 469.88,52.66 470.13,54.51 468.45,53.70 466.77,54.51 467.02,52.66 465.74,51.32 467.57,50.99" fill="#3a3a9a"/>
<polygon points="483.08,49.35 483.96,50.99 485.79,51.32 484.51,52.66 484.76,54.51 483.08,53.70 481.40,54.51 481.65,52.66 480.37,51.32 482.20,50.99" fill="#3a3a9a"/>
<polygon points="497.71,49.35 498.59,50.99 500.42,51.32 499.14,52.66 499.39,54.51 497.71,53.70 496.03,54.51 496.28,52.66 495.00,51.32 496.83,50.99" fill="#3a3a9a"/>
<polygon points="512.34,49.35 513.22,50.99 515.05,51.32 513.77,52.66 514.02,54.51 512.34,53.70 510.66,54.51 510.91,52.66 509.63,51.32 511.46,50.99" fill="#3a3a9a"/>
<polygon points="526.97,49.35 527.85,50.99 529.68,51.32 528.40,52.66 528.65,54.51 526.97,53.70 525.29,54.51 525.54,52.66 524.26,51.32 526.09,50.99" fill="#3a3a9a"/>
<rect x="327.45" y="191.40" width="12.2" height="90.30" fill="#ee4540"/>
<path d="M333.55 191.22V191.58M331.65 191.22h3.8M331.65 191.58h3.8" stroke="#0a0a0a" stroke-width="1.05" fill="none"/>
<rect x="342.08" y="191.40" width="12.2" height="90.30" fill="#ee4540"/>
<path d="M348.18 191.22V191.58M346.28 191.22h3.8M346.28 191.58h3.8" stroke="#0a0a0a" stroke-width="1.05" fill="none"/>
<rect x="356.71" y="191.40" width="12.2" height="90.30" fill="#ee4540"/>
<path d="M362.81 191.22V191.58M360.91 191.22h3.8M360.91 191.58h3.8" stroke="#0a0a0a" stroke-width="1.05" fill="none"/>
<rect x="371.34" y="192.30" width="12.2" height="89.40" fill="#ee4540"/>
<path d="M377.44 191.67V192.93M375.54 191.67h3.8M375.54 192.93h3.8" stroke="#0a0a0a" stroke-width="1.05" fill="none"/>
<rect x="385.97" y="193.20" width="12.2" height="88.50" fill="#ee4540"/>
<path d="M392.07 192.21V194.19M390.17 192.21h3.8M390.17 194.19h3.8" stroke="#0a0a0a" stroke-width="1.05" fill="none"/>
<rect x="400.60" y="198.15" width="12.2" height="83.55" fill="#3e47ac"/>
<path d="M406.70 196.71V199.59M404.80 196.71h3.8M404.80 199.59h3.8" stroke="#0a0a0a" stroke-width="1.05" fill="none"/>
<rect x="415.23" y="197.70" width="12.2" height="84.00" fill="#f9a61c"/>
<path d="M421.33 196.35V199.05M419.43 196.35h3.8M419.43 199.05h3.8" stroke="#0a0a0a" stroke-width="1.05" fill="none"/>
<text x="319.00" y="283.00" font-size="4.15" text-anchor="end" transform="rotate(0.03 319.00 283.00)" fill="#000" stroke="#000" stroke-width="0.16" textLength="6.3" lengthAdjust="spacingAndGlyphs">0.0</text>
<text x="319.00" y="265.00" font-size="4.15" text-anchor="end" transform="rotate(0.03 319.00 265.00)" fill="#000" stroke="#000" stroke-width="0.16" textLength="6.3" lengthAdjust="spacingAndGlyphs">0.2</text>
<text x="319.00" y="247.00" font-size="4.15" text-anchor="end" transform="rotate(0.03 319.00 247.00)" fill="#000" stroke="#000" stroke-width="0.16" textLength="6.3" lengthAdjust="spacingAndGlyphs">0.4</text>
<text x="319.00" y="229.00" font-size="4.15" text-anchor="end" transform="rotate(0.03 319.00 229.00)" fill="#000" stroke="#000" stroke-width="0.16" textLength="6.3" lengthAdjust="spacingAndGlyphs">0.6</text>
<text x="319.00" y="211.00" font-size="4.15" text-anchor="end" transform="rotate(0.03 319.00 211.00)" fill="#000" stroke="#000" stroke-width="0.16" textLength="6.3" lengthAdjust="spacingAndGlyphs">0.8</text>
<text x="319.00" y="193.00" font-size="4.15" text-anchor="end" transform="rotate(0.03 319.00 193.00)" fill="#000" stroke="#000" stroke-width="0.16" textLength="6.3" lengthAdjust="spacingAndGlyphs">1.0</text>
<path d="M323.40 190.90V281.90M320.80 281.40H323.40M320.80 263.40H323.40M320.80 245.40H323.40M320.80 227.40H323.40M320.80 209.40H323.40M320.80 191.40H323.40" stroke="#1a1a1a" stroke-width="1.15" fill="none"/>
<text x="309.50" y="236.40" font-size="5.7" text-anchor="middle" transform="rotate(-90 309.50 236.40)" stroke="#000" stroke-width="0.06">Sensitivity</text>
<text x="335.10" y="292.40" font-size="4.4" text-anchor="start" transform="rotate(-90 335.10 292.40)" stroke="#000" stroke-width="0.24" textLength="6.3" lengthAdjust="spacing">#1</text>
<text x="349.73" y="292.40" font-size="4.4" text-anchor="start" transform="rotate(-90 349.73 292.40)" stroke="#000" stroke-width="0.24" textLength="6.3" lengthAdjust="spacing">#2</text>
<text x="364.36" y="292.40" font-size="4.4" text-anchor="start" transform="rotate(-90 364.36 292.40)" stroke="#000" stroke-width="0.24" textLength="6.3" lengthAdjust="spacing">#3</text>
<text x="378.99" y="292.40" font-size="4.4" text-anchor="start" transform="rotate(-90 378.99 292.40)" stroke="#000" stroke-width="0.24" textLength="6.3" lengthAdjust="spacing">#4</text>
<text x="393.62" y="292.40" font-size="4.4" text-anchor="start" transform="rotate(-90 393.62 292.40)" stroke="#000" stroke-width="0.24" textLength="6.3" lengthAdjust="spacing">#5</text>
<text x="408.40" y="286.00" font-size="4.75" text-anchor="end" transform="rotate(-90 408.40 286.00)" stroke="#000" stroke-width="0.24">CHASM (lung)</text>
<text x="423.03" y="286.00" font-size="4.75" text-anchor="end" transform="rotate(-90 423.03 286.00)" stroke="#000" stroke-width="0.24">CanDrA (lung)</text>
<rect x="462.15" y="219.84" width="12.2" height="61.86" fill="#ee4540"/>
<path d="M468.25 209.67V230.01M466.35 209.67h3.8M466.35 230.01h3.8" stroke="#0a0a0a" stroke-width="1.05" fill="none"/>
<rect x="476.78" y="222.81" width="12.2" height="58.89" fill="#ee4540"/>
<path d="M482.88 212.46V233.16M480.98 212.46h3.8M480.98 233.16h3.8" stroke="#0a0a0a" stroke-width="1.05" fill="none"/>
<rect x="491.41" y="222.81" width="12.2" height="58.89" fill="#ee4540"/>
<path d="M497.51 212.46V233.16M495.61 212.46h3.8M495.61 233.16h3.8" stroke="#0a0a0a" stroke-width="1.05" fill="none"/>
<rect x="506.04" y="217.32" width="12.2" height="64.38" fill="#ee4540"/>
<path d="M512.14 207.42V227.22M510.24 207.42h3.8M510.24 227.22h3.8" stroke="#0a0a0a" stroke-width="1.05" fill="none"/>
<rect x="520.67" y="214.80" width="12.2" height="66.90" fill="#ee4540"/>
<path d="M526.77 205.08V224.52M524.87 205.08h3.8M524.87 224.52h3.8" stroke="#0a0a0a" stroke-width="1.05" fill="none"/>
<rect x="535.30" y="211.83" width="12.2" height="69.87" fill="#3e47ac"/>
<path d="M541.40 205.53V218.13M539.50 205.53h3.8M539.50 218.13h3.8" stroke="#0a0a0a" stroke-width="1.05" fill="none"/>
<rect x="549.93" y="208.59" width="12.2" height="73.11" fill="#f9a61c"/>
<path d="M556.03 202.65V214.53M554.13 202.65h3.8M554.13 214.53h3.8" stroke="#0a0a0a" stroke-width="1.05" fill="none"/>
<text x="453.50" y="283.00" font-size="4.15" text-anchor="end" transform="rotate(0.03 453.50 283.00)" fill="#000" stroke="#000" stroke-width="0.16" textLength="6.3" lengthAdjust="spacingAndGlyphs">0.0</text>
<text x="453.50" y="265.00" font-size="4.15" text-anchor="end" transform="rotate(0.03 453.50 265.00)" fill="#000" stroke="#000" stroke-width="0.16" textLength="6.3" lengthAdjust="spacingAndGlyphs">0.2</text>
<text x="453.50" y="247.00" font-size="4.15" text-anchor="end" transform="rotate(0.03 453.50 247.00)" fill="#000" stroke="#000" stroke-width="0.16" textLength="6.3" lengthAdjust="spacingAndGlyphs">0.4</text>
<text x="453.50" y="229.00" font-size="4.15" text-anchor="end" transform="rotate(0.03 453.50 229.00)" fill="#000" stroke="#000" stroke-width="0.16" textLength="6.3" lengthAdjust="spacingAndGlyphs">0.6</text>
<text x="453.50" y="211.00" font-size="4.15" text-anchor="end" transform="rotate(0.03 453.50 211.00)" fill="#000" stroke="#000" stroke-width="0.16" textLength="6.3" lengthAdjust="spacingAndGlyphs">0.8</text>
<text x="453.50" y="193.00" font-size="4.15" text-anchor="end" transform="rotate(0.03 453.50 193.00)" fill="#000" stroke="#000" stroke-width="0.16" textLength="6.3" lengthAdjust="spacingAndGlyphs">1.0</text>
<path d="M457.90 190.90V281.90M455.30 281.40H457.90M455.30 263.40H457.90M455.30 245.40H457.90M455.30 227.40H457.90M455.30 209.40H457.90M455.30 191.40H457.90" stroke="#1a1a1a" stroke-width="1.15" fill="none"/>
<text x="444.00" y="236.40" font-size="5.7" text-anchor="middle" transform="rotate(-90 444.00 236.40)" stroke="#000" stroke-width="0.06">Specificity</text>
<text x="469.80" y="292.40" font-size="4.4" text-anchor="start" transform="rotate(-90 469.80 292.40)" stroke="#000" stroke-width="0.24" textLength="6.3" lengthAdjust="spacing">#1</text>
<text x="484.43" y="292.40" font-size="4.4" text-anchor="start" transform="rotate(-90 484.43 292.40)" stroke="#000" stroke-width="0.24" textLength="6.3" lengthAdjust="spacing">#2</text>
<text x="499.06" y="292.40" font-size="4.4" text-anchor="start" transform="rotate(-90 499.06 292.40)" stroke="#000" stroke-width="0.24" textLength="6.3" lengthAdjust="spacing">#3</text>
<text x="513.69" y="292.40" font-size="4.4" text-anchor="start" transform="rotate(-90 513.69 292.40)" stroke="#000" stroke-width="0.24" textLength="6.3" lengthAdjust="spacing">#4</text>
<text x="528.32" y="292.40" font-size="4.4" text-anchor="start" transform="rotate(-90 528.32 292.40)" stroke="#000" stroke-width="0.24" textLength="6.3" lengthAdjust="spacing">#5</text>
<text x="543.10" y="286.00" font-size="4.75" text-anchor="end" transform="rotate(-90 543.10 286.00)" stroke="#000" stroke-width="0.24">CHASM (lung)</text>
<text x="557.73" y="286.00" font-size="4.75" text-anchor="end" transform="rotate(-90 557.73 286.00)" stroke="#000" stroke-width="0.24">CanDrA (lung)</text>
<rect x="327.45" y="330.43" width="12.2" height="86.07" fill="#ee4540"/>
<path d="M333.55 328.81V332.05M331.65 328.81h3.8M331.65 332.05h3.8" stroke="#0a0a0a" stroke-width="1.05" fill="none"/>
<rect x="342.08" y="331.15" width="12.2" height="85.35" fill="#ee4540"/>
<path d="M348.18 329.26V333.04M346.28 329.26h3.8M346.28 333.04h3.8" stroke="#0a0a0a" stroke-width="1.05" fill="none"/>
<rect x="356.71" y="331.15" width="12.2" height="85.35" fill="#ee4540"/>
<path d="M362.81 329.26V333.04M360.91 329.26h3.8M360.91 333.04h3.8" stroke="#0a0a0a" stroke-width="1.05" fill="none"/>
<rect x="371.34" y="330.07" width="12.2" height="86.43" fill="#ee4540"/>
<path d="M377.44 328.27V331.87M375.54 328.27h3.8M375.54 331.87h3.8" stroke="#0a0a0a" stroke-width="1.05" fill="none"/>
<rect x="385.97" y="329.80" width="12.2" height="86.70" fill="#ee4540"/>
<path d="M392.07 328.36V331.24M390.17 328.36h3.8M390.17 331.24h3.8" stroke="#0a0a0a" stroke-width="1.05" fill="none"/>
<rect x="400.60" y="329.35" width="12.2" height="87.15" fill="#3e47ac"/>
<path d="M406.70 328.72V329.98M404.80 328.72h3.8M404.80 329.98h3.8" stroke="#0a0a0a" stroke-width="1.05" fill="none"/>
<rect x="415.23" y="328.72" width="12.2" height="87.78" fill="#f9a61c"/>
<path d="M421.33 328.09V329.35M419.43 328.09h3.8M419.43 329.35h3.8" stroke="#0a0a0a" stroke-width="1.05" fill="none"/>
<text x="319.00" y="417.80" font-size="4.15" text-anchor="end" transform="rotate(0.03 319.00 417.80)" fill="#000" stroke="#000" stroke-width="0.16" textLength="6.3" lengthAdjust="spacingAndGlyphs">0.0</text>
<text x="319.00" y="399.80" font-size="4.15" text-anchor="end" transform="rotate(0.03 319.00 399.80)" fill="#000" stroke="#000" stroke-width="0.16" textLength="6.3" lengthAdjust="spacingAndGlyphs">0.2</text>
<text x="319.00" y="381.80" font-size="4.15" text-anchor="end" transform="rotate(0.03 319.00 381.80)" fill="#000" stroke="#000" stroke-width="0.16" textLength="6.3" lengthAdjust="spacingAndGlyphs">0.4</text>
<text x="319.00" y="363.80" font-size="4.15" text-anchor="end" transform="rotate(0.03 319.00 363.80)" fill="#000" stroke="#000" stroke-width="0.16" textLength="6.3" lengthAdjust="spacingAndGlyphs">0.6</text>
<text x="319.00" y="345.80" font-size="4.15" text-anchor="end" transform="rotate(0.03 319.00 345.80)" fill="#000" stroke="#000" stroke-width="0.16" textLength="6.3" lengthAdjust="spacingAndGlyphs">0.8</text>
<text x="319.00" y="327.80" font-size="4.15" text-anchor="end" transform="rotate(0.03 319.00 327.80)" fill="#000" stroke="#000" stroke-width="0.16" textLength="6.3" lengthAdjust="spacingAndGlyphs">1.0</text>
<path d="M323.40 325.70V416.70M320.80 416.20H323.40M320.80 398.20H323.40M320.80 380.20H323.40M320.80 362.20H323.40M320.80 344.20H323.40M320.80 326.20H323.40" stroke="#1a1a1a" stroke-width="1.15" fill="none"/>
<text x="309.50" y="371.20" font-size="5.7" text-anchor="middle" transform="rotate(-90 309.50 371.20)" stroke="#000" stroke-width="0.06">PPV</text>
<text x="335.10" y="427.20" font-size="4.4" text-anchor="start" transform="rotate(-90 335.10 427.20)" stroke="#000" stroke-width="0.24" textLength="6.3" lengthAdjust="spacing">#1</text>
<text x="349.73" y="427.20" font-size="4.4" text-anchor="start" transform="rotate(-90 349.73 427.20)" stroke="#000" stroke-width="0.24" textLength="6.3" lengthAdjust="spacing">#2</text>
<text x="364.36" y="427.20" font-size="4.4" text-anchor="start" transform="rotate(-90 364.36 427.20)" stroke="#000" stroke-width="0.24" textLength="6.3" lengthAdjust="spacing">#3</text>
<text x="378.99" y="427.20" font-size="4.4" text-anchor="start" transform="rotate(-90 378.99 427.20)" stroke="#000" stroke-width="0.24" textLength="6.3" lengthAdjust="spacing">#4</text>
<text x="393.62" y="427.20" font-size="4.4" text-anchor="start" transform="rotate(-90 393.62 427.20)" stroke="#000" stroke-width="0.24" textLength="6.3" lengthAdjust="spacing">#5</text>
<text x="408.40" y="420.80" font-size="4.75" text-anchor="end" transform="rotate(-90 408.40 420.80)" stroke="#000" stroke-width="0.24">CHASM (lung)</text>
<text x="423.03" y="420.80" font-size="4.75" text-anchor="end" transform="rotate(-90 423.03 420.80)" stroke="#000" stroke-width="0.24">CanDrA (lung)</text>
<rect x="462.15" y="327.10" width="12.2" height="89.40" fill="#ee4540"/>
<path d="M468.25 325.39V328.81M466.35 325.39h3.8M466.35 328.81h3.8" stroke="#0a0a0a" stroke-width="1.05" fill="none"/>
<rect x="476.78" y="327.10" width="12.2" height="89.40" fill="#ee4540"/>
<path d="M482.88 325.39V328.81M480.98 325.39h3.8M480.98 328.81h3.8" stroke="#0a0a0a" stroke-width="1.05" fill="none"/>
<rect x="491.41" y="327.10" width="12.2" height="89.40" fill="#ee4540"/>
<path d="M497.51 325.39V328.81M495.61 325.39h3.8M495.61 328.81h3.8" stroke="#0a0a0a" stroke-width="1.05" fill="none"/>
<rect x="506.04" y="332.77" width="12.2" height="83.73" fill="#ee4540"/>
<path d="M512.14 326.02V339.52M510.24 326.02h3.8M510.24 339.52h3.8" stroke="#0a0a0a" stroke-width="1.05" fill="none"/>
<rect x="520.67" y="336.28" width="12.2" height="80.22" fill="#ee4540"/>
<path d="M526.77 329.08V343.48M524.87 329.08h3.8M524.87 343.48h3.8" stroke="#0a0a0a" stroke-width="1.05" fill="none"/>
<rect x="535.30" y="360.22" width="12.2" height="56.28" fill="#3e47ac"/>
<path d="M541.40 353.65V366.79M539.50 353.65h3.8M539.50 366.79h3.8" stroke="#0a0a0a" stroke-width="1.05" fill="none"/>
<rect x="549.93" y="358.78" width="12.2" height="57.72" fill="#f9a61c"/>
<path d="M556.03 352.21V365.35M554.13 352.21h3.8M554.13 365.35h3.8" stroke="#0a0a0a" stroke-width="1.05" fill="none"/>
<text x="453.50" y="417.80" font-size="4.15" text-anchor="end" transform="rotate(0.03 453.50 417.80)" fill="#000" stroke="#000" stroke-width="0.16" textLength="6.3" lengthAdjust="spacingAndGlyphs">0.0</text>
<text x="453.50" y="399.80" font-size="4.15" text-anchor="end" transform="rotate(0.03 453.50 399.80)" fill="#000" stroke="#000" stroke-width="0.16" textLength="6.3" lengthAdjust="spacingAndGlyphs">0.2</text>
<text x="453.50" y="381.80" font-size="4.15" text-anchor="end" transform="rotate(0.03 453.50 381.80)" fill="#000" stroke="#000" stroke-width="0.16" textLength="6.3" lengthAdjust="spacingAndGlyphs">0.4</text>
<text x="453.50" y="363.80" font-size="4.15" text-anchor="end" transform="rotate(0.03 453.50 363.80)" fill="#000" stroke="#000" stroke-width="0.16" textLength="6.3" lengthAdjust="spacingAndGlyphs">0.6</text>
<text x="453.50" y="345.80" font-size="4.15" text-anchor="end" transform="rotate(0.03 453.50 345.80)" fill="#000" stroke="#000" stroke-width="0.16" textLength="6.3" lengthAdjust="spacingAndGlyphs">0.8</text>
<text x="453.50" y="327.80" font-size="4.15" text-anchor="end" transform="rotate(0.03 453.50 327.80)" fill="#000" stroke="#000" stroke-width="0.16" textLength="6.3" lengthAdjust="spacingAndGlyphs">1.0</text>
<path d="M457.90 325.70V416.70M455.30 416.20H457.90M455.30 398.20H457.90M455.30 380.20H457.90M455.30 362.20H457.90M455.30 344.20H457.90M455.30 326.20H457.90" stroke="#1a1a1a" stroke-width="1.15" fill="none"/>
<text x="444.00" y="371.20" font-size="5.7" text-anchor="middle" transform="rotate(-90 444.00 371.20)" stroke="#000" stroke-width="0.06">NPV</text>
<text x="469.80" y="427.20" font-size="4.4" text-anchor="start" transform="rotate(-90 469.80 427.20)" stroke="#000" stroke-width="0.24" textLength="6.3" lengthAdjust="spacing">#1</text>
<text x="484.43" y="427.20" font-size="4.4" text-anchor="start" transform="rotate(-90 484.43 427.20)" stroke="#000" stroke-width="0.24" textLength="6.3" lengthAdjust="spacing">#2</text>
<text x="499.06" y="427.20" font-size="4.4" text-anchor="start" transform="rotate(-90 499.06 427.20)" stroke="#000" stroke-width="0.24" textLength="6.3" lengthAdjust="spacing">#3</text>
<text x="513.69" y="427.20" font-size="4.4" text-anchor="start" transform="rotate(-90 513.69 427.20)" stroke="#000" stroke-width="0.24" textLength="6.3" lengthAdjust="spacing">#4</text>
<text x="528.32" y="427.20" font-size="4.4" text-anchor="start" transform="rotate(-90 528.32 427.20)" stroke="#000" stroke-width="0.24" textLength="6.3" lengthAdjust="spacing">#5</text>
<text x="543.10" y="420.80" font-size="4.75" text-anchor="end" transform="rotate(-90 543.10 420.80)" stroke="#000" stroke-width="0.24">CHASM (lung)</text>
<text x="557.73" y="420.80" font-size="4.75" text-anchor="end" transform="rotate(-90 557.73 420.80)" stroke="#000" stroke-width="0.24">CanDrA (lung)</text>
<polygon points="468.45,309.10 470.95,313.50 465.95,313.50" fill="#f6ad2e"/>
<polygon points="483.08,309.10 485.58,313.50 480.58,313.50" fill="#f6ad2e"/>
<polygon points="497.71,309.10 500.21,313.50 495.21,313.50" fill="#f6ad2e"/>
<polygon points="512.34,309.10 514.84,313.50 509.84,313.50" fill="#f6ad2e"/>
<polygon points="526.97,309.10 529.47,313.50 524.47,313.50" fill="#f6ad2e"/>
<polygon points="468.45,315.40 470.95,319.80 465.95,319.80" fill="#3a3a9a"/>
<polygon points="483.08,315.40 485.58,319.80 480.58,319.80" fill="#3a3a9a"/>
<polygon points="497.71,315.40 500.21,319.80 495.21,319.80" fill="#3a3a9a"/>
<polygon points="512.34,315.40 514.84,319.80 509.84,319.80" fill="#3a3a9a"/>
<polygon points="526.97,315.40 529.47,319.80 524.47,319.80" fill="#3a3a9a"/>
<rect x="22.05" y="569.18" width="12.2" height="83.82" fill="#ee4540"/>
<path d="M28.15 566.93V571.43M26.25 566.93h3.8M26.25 571.43h3.8" stroke="#0a0a0a" stroke-width="1.05" fill="none"/>
<rect x="36.68" y="570.44" width="12.2" height="82.56" fill="#ee4540"/>
<path d="M42.78 568.46V572.42M40.88 568.46h3.8M40.88 572.42h3.8" stroke="#0a0a0a" stroke-width="1.05" fill="none"/>
<rect x="51.31" y="570.44" width="12.2" height="82.56" fill="#ee4540"/>
<path d="M57.41 568.46V572.42M55.51 568.46h3.8M55.51 572.42h3.8" stroke="#0a0a0a" stroke-width="1.05" fill="none"/>
<rect x="65.94" y="570.17" width="12.2" height="82.83" fill="#ee4540"/>
<path d="M72.04 568.37V571.97M70.14 568.37h3.8M70.14 571.97h3.8" stroke="#0a0a0a" stroke-width="1.05" fill="none"/>
<rect x="80.57" y="570.17" width="12.2" height="82.83" fill="#ee4540"/>
<path d="M86.67 568.37V571.97M84.77 568.37h3.8M84.77 571.97h3.8" stroke="#0a0a0a" stroke-width="1.05" fill="none"/>
<rect x="95.20" y="576.11" width="12.2" height="76.89" fill="#3e47ac"/>
<path d="M101.30 572.51V579.71M99.40 572.51h3.8M99.40 579.71h3.8" stroke="#0a0a0a" stroke-width="1.05" fill="none"/>
<rect x="109.83" y="576.11" width="12.2" height="76.89" fill="#f9a61c"/>
<path d="M115.93 572.69V579.53M114.03 572.69h3.8M114.03 579.53h3.8" stroke="#0a0a0a" stroke-width="1.05" fill="none"/>
<text x="13.50" y="654.30" font-size="4.15" text-anchor="end" transform="rotate(0.03 13.50 654.30)" fill="#000" stroke="#000" stroke-width="0.16" textLength="6.3" lengthAdjust="spacingAndGlyphs">0.0</text>
<text x="13.50" y="636.30" font-size="4.15" text-anchor="end" transform="rotate(0.03 13.50 636.30)" fill="#000" stroke="#000" stroke-width="0.16" textLength="6.3" lengthAdjust="spacingAndGlyphs">0.2</text>
<text x="13.50" y="618.30" font-size="4.15" text-anchor="end" transform="rotate(0.03 13.50 618.30)" fill="#000" stroke="#000" stroke-width="0.16" textLength="6.3" lengthAdjust="spacingAndGlyphs">0.4</text>
<text x="13.50" y="600.30" font-size="4.15" text-anchor="end" transform="rotate(0.03 13.50 600.30)" fill="#000" stroke="#000" stroke-width="0.16" textLength="6.3" lengthAdjust="spacingAndGlyphs">0.6</text>
<text x="13.50" y="582.30" font-size="4.15" text-anchor="end" transform="rotate(0.03 13.50 582.30)" fill="#000" stroke="#000" stroke-width="0.16" textLength="6.3" lengthAdjust="spacingAndGlyphs">0.8</text>
<text x="13.50" y="564.30" font-size="4.15" text-anchor="end" transform="rotate(0.03 13.50 564.30)" fill="#000" stroke="#000" stroke-width="0.16" textLength="6.3" lengthAdjust="spacingAndGlyphs">1.0</text>
<path d="M17.90 562.20V653.20M15.30 652.70H17.90M15.30 634.70H17.90M15.30 616.70H17.90M15.30 598.70H17.90M15.30 580.70H17.90M15.30 562.70H17.90" stroke="#1a1a1a" stroke-width="1.15" fill="none"/>
<text x="4.00" y="607.70" font-size="5.7" text-anchor="middle" transform="rotate(-90 4.00 607.70)" stroke="#000" stroke-width="0.06">Accuracy</text>
<text x="29.70" y="663.70" font-size="4.4" text-anchor="start" transform="rotate(-90 29.70 663.70)" stroke="#000" stroke-width="0.24" textLength="6.3" lengthAdjust="spacing">#1</text>
<text x="44.33" y="663.70" font-size="4.4" text-anchor="start" transform="rotate(-90 44.33 663.70)" stroke="#000" stroke-width="0.24" textLength="6.3" lengthAdjust="spacing">#2</text>
<text x="58.96" y="663.70" font-size="4.4" text-anchor="start" transform="rotate(-90 58.96 663.70)" stroke="#000" stroke-width="0.24" textLength="6.3" lengthAdjust="spacing">#3</text>
<text x="73.59" y="663.70" font-size="4.4" text-anchor="start" transform="rotate(-90 73.59 663.70)" stroke="#000" stroke-width="0.24" textLength="6.3" lengthAdjust="spacing">#4</text>
<text x="88.22" y="663.70" font-size="4.4" text-anchor="start" transform="rotate(-90 88.22 663.70)" stroke="#000" stroke-width="0.24" textLength="6.3" lengthAdjust="spacing">#5</text>
<text x="103.00" y="657.30" font-size="4.75" text-anchor="end" transform="rotate(-90 103.00 657.30)" stroke="#000" stroke-width="0.24">MutationTaster</text>
<text x="117.63" y="657.30" font-size="4.75" text-anchor="end" transform="rotate(-90 117.63 657.30)" stroke="#000" stroke-width="0.24">CanDrA (lung)</text>
<rect x="156.70" y="569.23" width="12.2" height="83.78" fill="#ee4540"/>
<path d="M162.80 567.43V571.02M160.90 567.43h3.8M160.90 571.02h3.8" stroke="#0a0a0a" stroke-width="1.05" fill="none"/>
<rect x="171.33" y="570.58" width="12.2" height="82.42" fill="#ee4540"/>
<path d="M177.43 568.78V572.38M175.53 568.78h3.8M175.53 572.38h3.8" stroke="#0a0a0a" stroke-width="1.05" fill="none"/>
<rect x="185.96" y="570.58" width="12.2" height="82.42" fill="#ee4540"/>
<path d="M192.06 568.78V572.38M190.16 568.78h3.8M190.16 572.38h3.8" stroke="#0a0a0a" stroke-width="1.05" fill="none"/>
<rect x="200.59" y="570.58" width="12.2" height="82.42" fill="#ee4540"/>
<path d="M206.69 568.33V572.83M204.79 568.33h3.8M204.79 572.83h3.8" stroke="#0a0a0a" stroke-width="1.05" fill="none"/>
<rect x="215.22" y="570.58" width="12.2" height="82.42" fill="#ee4540"/>
<path d="M221.32 568.55V572.60M219.42 568.55h3.8M219.42 572.60h3.8" stroke="#0a0a0a" stroke-width="1.05" fill="none"/>
<rect x="229.85" y="577.33" width="12.2" height="75.67" fill="#3e47ac"/>
<path d="M235.95 573.28V581.38M234.05 573.28h3.8M234.05 581.38h3.8" stroke="#0a0a0a" stroke-width="1.05" fill="none"/>
<rect x="244.48" y="576.20" width="12.2" height="76.80" fill="#f9a61c"/>
<path d="M250.58 573.05V579.35M248.68 573.05h3.8M248.68 579.35h3.8" stroke="#0a0a0a" stroke-width="1.05" fill="none"/>
<text x="148.00" y="654.30" font-size="4.15" text-anchor="end" transform="rotate(0.03 148.00 654.30)" fill="#000" stroke="#000" stroke-width="0.16" textLength="2.6" lengthAdjust="spacingAndGlyphs">0</text>
<text x="148.00" y="631.80" font-size="4.15" text-anchor="end" transform="rotate(0.03 148.00 631.80)" fill="#000" stroke="#000" stroke-width="0.16" textLength="2.6" lengthAdjust="spacingAndGlyphs">1</text>
<text x="148.00" y="609.30" font-size="4.15" text-anchor="end" transform="rotate(0.03 148.00 609.30)" fill="#000" stroke="#000" stroke-width="0.16" textLength="2.6" lengthAdjust="spacingAndGlyphs">2</text>
<text x="148.00" y="586.80" font-size="4.15" text-anchor="end" transform="rotate(0.03 148.00 586.80)" fill="#000" stroke="#000" stroke-width="0.16" textLength="2.6" lengthAdjust="spacingAndGlyphs">3</text>
<text x="148.00" y="564.30" font-size="4.15" text-anchor="end" transform="rotate(0.03 148.00 564.30)" fill="#000" stroke="#000" stroke-width="0.16" textLength="2.6" lengthAdjust="spacingAndGlyphs">4</text>
<path d="M152.40 562.20V653.20M149.80 652.70H152.40M149.80 630.20H152.40M149.80 607.70H152.40M149.80 585.20H152.40M149.80 562.70H152.40" stroke="#1a1a1a" stroke-width="1.15" fill="none"/>
<text x="138.50" y="607.70" font-size="5.7" text-anchor="middle" transform="rotate(-90 138.50 607.70)" stroke="#000" stroke-width="0.06">Composite</text>
<text x="164.35" y="663.70" font-size="4.4" text-anchor="start" transform="rotate(-90 164.35 663.70)" stroke="#000" stroke-width="0.24" textLength="6.3" lengthAdjust="spacing">#1</text>
<text x="178.98" y="663.70" font-size="4.4" text-anchor="start" transform="rotate(-90 178.98 663.70)" stroke="#000" stroke-width="0.24" textLength="6.3" lengthAdjust="spacing">#2</text>
<text x="193.61" y="663.70" font-size="4.4" text-anchor="start" transform="rotate(-90 193.61 663.70)" stroke="#000" stroke-width="0.24" textLength="6.3" lengthAdjust="spacing">#3</text>
<text x="208.24" y="663.70" font-size="4.4" text-anchor="start" transform="rotate(-90 208.24 663.70)" stroke="#000" stroke-width="0.24" textLength="6.3" lengthAdjust="spacing">#4</text>
<text x="222.87" y="663.70" font-size="4.4" text-anchor="start" transform="rotate(-90 222.87 663.70)" stroke="#000" stroke-width="0.24" textLength="6.3" lengthAdjust="spacing">#5</text>
<text x="237.65" y="657.30" font-size="4.75" text-anchor="end" transform="rotate(-90 237.65 657.30)" stroke="#000" stroke-width="0.24">MutationTaster</text>
<text x="252.28" y="657.30" font-size="4.75" text-anchor="end" transform="rotate(-90 252.28 657.30)" stroke="#000" stroke-width="0.24">CanDrA (lung)</text>
<polygon points="163.00,550.15 163.88,551.79 165.71,552.12 164.43,553.46 164.68,555.31 163.00,554.50 161.32,555.31 161.57,553.46 160.29,552.12 162.12,551.79" fill="#f6ad2e"/>
<polygon points="177.63,550.15 178.51,551.79 180.34,552.12 179.06,553.46 179.31,555.31 177.63,554.50 175.95,555.31 176.20,553.46 174.92,552.12 176.75,551.79" fill="#f6ad2e"/>
<polygon points="192.26,550.15 193.14,551.79 194.97,552.12 193.69,553.46 193.94,555.31 192.26,554.50 190.58,555.31 190.83,553.46 189.55,552.12 191.38,551.79" fill="#f6ad2e"/>
<polygon points="221.52,550.15 222.40,551.79 224.23,552.12 222.95,553.46 223.20,555.31 221.52,554.50 219.84,555.31 220.09,553.46 218.81,552.12 220.64,551.79" fill="#f6ad2e"/>
<polygon points="163.00,556.55 163.88,558.19 165.71,558.52 164.43,559.86 164.68,561.71 163.00,560.90 161.32,561.71 161.57,559.86 160.29,558.52 162.12,558.19" fill="#3a3a9a"/>
<polygon points="177.63,556.55 178.51,558.19 180.34,558.52 179.06,559.86 179.31,561.71 177.63,560.90 175.95,561.71 176.20,559.86 174.92,558.52 176.75,558.19" fill="#3a3a9a"/>
<polygon points="192.26,556.55 193.14,558.19 194.97,558.52 193.69,559.86 193.94,561.71 192.26,560.90 190.58,561.71 190.83,559.86 189.55,558.52 191.38,558.19" fill="#3a3a9a"/>
<polygon points="206.89,556.55 207.77,558.19 209.60,558.52 208.32,559.86 208.57,561.71 206.89,560.90 205.21,561.71 205.46,559.86 204.18,558.52 206.01,558.19" fill="#3a3a9a"/>
<polygon points="221.52,556.55 222.40,558.19 224.23,558.52 222.95,559.86 223.20,561.71 221.52,560.90 219.84,561.71 220.09,559.86 218.81,558.52 220.64,558.19" fill="#3a3a9a"/>
<rect x="22.05" y="698.12" width="12.2" height="89.58" fill="#ee4540"/>
<path d="M28.15 697.67V698.57M26.25 697.67h3.8M26.25 698.57h3.8" stroke="#0a0a0a" stroke-width="1.05" fill="none"/>
<rect x="36.68" y="698.12" width="12.2" height="89.58" fill="#ee4540"/>
<path d="M42.78 697.67V698.57M40.88 697.67h3.8M40.88 698.57h3.8" stroke="#0a0a0a" stroke-width="1.05" fill="none"/>
<rect x="51.31" y="698.12" width="12.2" height="89.58" fill="#ee4540"/>
<path d="M57.41 697.67V698.57M55.51 697.67h3.8M55.51 698.57h3.8" stroke="#0a0a0a" stroke-width="1.05" fill="none"/>
<rect x="65.94" y="702.35" width="12.2" height="85.35" fill="#ee4540"/>
<path d="M72.04 700.10V704.60M70.14 700.10h3.8M70.14 704.60h3.8" stroke="#0a0a0a" stroke-width="1.05" fill="none"/>
<rect x="80.57" y="700.37" width="12.2" height="87.33" fill="#ee4540"/>
<path d="M86.67 698.57V702.17M84.77 698.57h3.8M84.77 702.17h3.8" stroke="#0a0a0a" stroke-width="1.05" fill="none"/>
<rect x="95.20" y="711.62" width="12.2" height="76.08" fill="#3e47ac"/>
<path d="M101.30 706.49V716.75M99.40 706.49h3.8M99.40 716.75h3.8" stroke="#0a0a0a" stroke-width="1.05" fill="none"/>
<rect x="109.83" y="716.12" width="12.2" height="71.58" fill="#f9a61c"/>
<path d="M115.93 711.17V721.07M114.03 711.17h3.8M114.03 721.07h3.8" stroke="#0a0a0a" stroke-width="1.05" fill="none"/>
<text x="13.50" y="789.00" font-size="4.15" text-anchor="end" transform="rotate(0.03 13.50 789.00)" fill="#000" stroke="#000" stroke-width="0.16" textLength="6.3" lengthAdjust="spacingAndGlyphs">0.0</text>
<text x="13.50" y="771.00" font-size="4.15" text-anchor="end" transform="rotate(0.03 13.50 771.00)" fill="#000" stroke="#000" stroke-width="0.16" textLength="6.3" lengthAdjust="spacingAndGlyphs">0.2</text>
<text x="13.50" y="753.00" font-size="4.15" text-anchor="end" transform="rotate(0.03 13.50 753.00)" fill="#000" stroke="#000" stroke-width="0.16" textLength="6.3" lengthAdjust="spacingAndGlyphs">0.4</text>
<text x="13.50" y="735.00" font-size="4.15" text-anchor="end" transform="rotate(0.03 13.50 735.00)" fill="#000" stroke="#000" stroke-width="0.16" textLength="6.3" lengthAdjust="spacingAndGlyphs">0.6</text>
<text x="13.50" y="717.00" font-size="4.15" text-anchor="end" transform="rotate(0.03 13.50 717.00)" fill="#000" stroke="#000" stroke-width="0.16" textLength="6.3" lengthAdjust="spacingAndGlyphs">0.8</text>
<text x="13.50" y="699.00" font-size="4.15" text-anchor="end" transform="rotate(0.03 13.50 699.00)" fill="#000" stroke="#000" stroke-width="0.16" textLength="6.3" lengthAdjust="spacingAndGlyphs">1.0</text>
<path d="M17.90 696.90V787.90M15.30 787.40H17.90M15.30 769.40H17.90M15.30 751.40H17.90M15.30 733.40H17.90M15.30 715.40H17.90M15.30 697.40H17.90" stroke="#1a1a1a" stroke-width="1.15" fill="none"/>
<text x="4.00" y="742.40" font-size="5.7" text-anchor="middle" transform="rotate(-90 4.00 742.40)" stroke="#000" stroke-width="0.06">Sensitivity</text>
<text x="29.70" y="798.40" font-size="4.4" text-anchor="start" transform="rotate(-90 29.70 798.40)" stroke="#000" stroke-width="0.24" textLength="6.3" lengthAdjust="spacing">#1</text>
<text x="44.33" y="798.40" font-size="4.4" text-anchor="start" transform="rotate(-90 44.33 798.40)" stroke="#000" stroke-width="0.24" textLength="6.3" lengthAdjust="spacing">#2</text>
<text x="58.96" y="798.40" font-size="4.4" text-anchor="start" transform="rotate(-90 58.96 798.40)" stroke="#000" stroke-width="0.24" textLength="6.3" lengthAdjust="spacing">#3</text>
<text x="73.59" y="798.40" font-size="4.4" text-anchor="start" transform="rotate(-90 73.59 798.40)" stroke="#000" stroke-width="0.24" textLength="6.3" lengthAdjust="spacing">#4</text>
<text x="88.22" y="798.40" font-size="4.4" text-anchor="start" transform="rotate(-90 88.22 798.40)" stroke="#000" stroke-width="0.24" textLength="6.3" lengthAdjust="spacing">#5</text>
<text x="103.00" y="792.00" font-size="4.75" text-anchor="end" transform="rotate(-90 103.00 792.00)" stroke="#000" stroke-width="0.24">MutationTaster</text>
<text x="117.63" y="792.00" font-size="4.75" text-anchor="end" transform="rotate(-90 117.63 792.00)" stroke="#000" stroke-width="0.24">CanDrA (lung)</text>
<rect x="156.70" y="713.15" width="12.2" height="74.55" fill="#ee4540"/>
<path d="M162.80 708.83V717.47M160.90 708.83h3.8M160.90 717.47h3.8" stroke="#0a0a0a" stroke-width="1.05" fill="none"/>
<rect x="171.33" y="717.38" width="12.2" height="70.32" fill="#ee4540"/>
<path d="M177.43 712.43V722.33M175.53 712.43h3.8M175.53 722.33h3.8" stroke="#0a0a0a" stroke-width="1.05" fill="none"/>
<rect x="185.96" y="717.38" width="12.2" height="70.32" fill="#ee4540"/>
<path d="M192.06 712.43V722.33M190.16 712.43h3.8M190.16 722.33h3.8" stroke="#0a0a0a" stroke-width="1.05" fill="none"/>
<rect x="200.59" y="709.10" width="12.2" height="78.60" fill="#ee4540"/>
<path d="M206.69 705.50V712.70M204.79 705.50h3.8M204.79 712.70h3.8" stroke="#0a0a0a" stroke-width="1.05" fill="none"/>
<rect x="215.22" y="711.62" width="12.2" height="76.08" fill="#ee4540"/>
<path d="M221.32 707.30V715.94M219.42 707.30h3.8M219.42 715.94h3.8" stroke="#0a0a0a" stroke-width="1.05" fill="none"/>
<rect x="229.85" y="710.36" width="12.2" height="77.34" fill="#3e47ac"/>
<path d="M235.95 704.06V716.66M234.05 704.06h3.8M234.05 716.66h3.8" stroke="#0a0a0a" stroke-width="1.05" fill="none"/>
<rect x="244.48" y="702.35" width="12.2" height="85.35" fill="#f9a61c"/>
<path d="M250.58 698.39V706.31M248.68 698.39h3.8M248.68 706.31h3.8" stroke="#0a0a0a" stroke-width="1.05" fill="none"/>
<text x="148.00" y="789.00" font-size="4.15" text-anchor="end" transform="rotate(0.03 148.00 789.00)" fill="#000" stroke="#000" stroke-width="0.16" textLength="6.3" lengthAdjust="spacingAndGlyphs">0.0</text>
<text x="148.00" y="771.00" font-size="4.15" text-anchor="end" transform="rotate(0.03 148.00 771.00)" fill="#000" stroke="#000" stroke-width="0.16" textLength="6.3" lengthAdjust="spacingAndGlyphs">0.2</text>
<text x="148.00" y="753.00" font-size="4.15" text-anchor="end" transform="rotate(0.03 148.00 753.00)" fill="#000" stroke="#000" stroke-width="0.16" textLength="6.3" lengthAdjust="spacingAndGlyphs">0.4</text>
<text x="148.00" y="735.00" font-size="4.15" text-anchor="end" transform="rotate(0.03 148.00 735.00)" fill="#000" stroke="#000" stroke-width="0.16" textLength="6.3" lengthAdjust="spacingAndGlyphs">0.6</text>
<text x="148.00" y="717.00" font-size="4.15" text-anchor="end" transform="rotate(0.03 148.00 717.00)" fill="#000" stroke="#000" stroke-width="0.16" textLength="6.3" lengthAdjust="spacingAndGlyphs">0.8</text>
<text x="148.00" y="699.00" font-size="4.15" text-anchor="end" transform="rotate(0.03 148.00 699.00)" fill="#000" stroke="#000" stroke-width="0.16" textLength="6.3" lengthAdjust="spacingAndGlyphs">1.0</text>
<path d="M152.40 696.90V787.90M149.80 787.40H152.40M149.80 769.40H152.40M149.80 751.40H152.40M149.80 733.40H152.40M149.80 715.40H152.40M149.80 697.40H152.40" stroke="#1a1a1a" stroke-width="1.15" fill="none"/>
<text x="138.50" y="742.40" font-size="5.7" text-anchor="middle" transform="rotate(-90 138.50 742.40)" stroke="#000" stroke-width="0.06">Specificity</text>
<text x="164.35" y="798.40" font-size="4.4" text-anchor="start" transform="rotate(-90 164.35 798.40)" stroke="#000" stroke-width="0.24" textLength="6.3" lengthAdjust="spacing">#1</text>
<text x="178.98" y="798.40" font-size="4.4" text-anchor="start" transform="rotate(-90 178.98 798.40)" stroke="#000" stroke-width="0.24" textLength="6.3" lengthAdjust="spacing">#2</text>
<text x="193.61" y="798.40" font-size="4.4" text-anchor="start" transform="rotate(-90 193.61 798.40)" stroke="#000" stroke-width="0.24" textLength="6.3" lengthAdjust="spacing">#3</text>
<text x="208.24" y="798.40" font-size="4.4" text-anchor="start" transform="rotate(-90 208.24 798.40)" stroke="#000" stroke-width="0.24" textLength="6.3" lengthAdjust="spacing">#4</text>
<text x="222.87" y="798.40" font-size="4.4" text-anchor="start" transform="rotate(-90 222.87 798.40)" stroke="#000" stroke-width="0.24" textLength="6.3" lengthAdjust="spacing">#5</text>
<text x="237.65" y="792.00" font-size="4.75" text-anchor="end" transform="rotate(-90 237.65 792.00)" stroke="#000" stroke-width="0.24">MutationTaster</text>
<text x="252.28" y="792.00" font-size="4.75" text-anchor="end" transform="rotate(-90 252.28 792.00)" stroke="#000" stroke-width="0.24">CanDrA (lung)</text>
<rect x="22.05" y="840.53" width="12.2" height="81.57" fill="#ee4540"/>
<path d="M28.15 837.83V843.23M26.25 837.83h3.8M26.25 843.23h3.8" stroke="#0a0a0a" stroke-width="1.05" fill="none"/>
<rect x="36.68" y="842.60" width="12.2" height="79.50" fill="#ee4540"/>
<path d="M42.78 839.90V845.30M40.88 839.90h3.8M40.88 845.30h3.8" stroke="#0a0a0a" stroke-width="1.05" fill="none"/>
<rect x="51.31" y="842.60" width="12.2" height="79.50" fill="#ee4540"/>
<path d="M57.41 839.90V845.30M55.51 839.90h3.8M55.51 845.30h3.8" stroke="#0a0a0a" stroke-width="1.05" fill="none"/>
<rect x="65.94" y="838.28" width="12.2" height="83.82" fill="#ee4540"/>
<path d="M72.04 835.76V840.80M70.14 835.76h3.8M70.14 840.80h3.8" stroke="#0a0a0a" stroke-width="1.05" fill="none"/>
<rect x="80.57" y="839.54" width="12.2" height="82.56" fill="#ee4540"/>
<path d="M86.67 836.84V842.24M84.77 836.84h3.8M84.77 842.24h3.8" stroke="#0a0a0a" stroke-width="1.05" fill="none"/>
<rect x="95.20" y="840.53" width="12.2" height="81.57" fill="#3e47ac"/>
<path d="M101.30 836.39V844.67M99.40 836.39h3.8M99.40 844.67h3.8" stroke="#0a0a0a" stroke-width="1.05" fill="none"/>
<rect x="109.83" y="835.04" width="12.2" height="87.06" fill="#f9a61c"/>
<path d="M115.93 832.34V837.74M114.03 832.34h3.8M114.03 837.74h3.8" stroke="#0a0a0a" stroke-width="1.05" fill="none"/>
<text x="13.50" y="923.40" font-size="4.15" text-anchor="end" transform="rotate(0.03 13.50 923.40)" fill="#000" stroke="#000" stroke-width="0.16" textLength="6.3" lengthAdjust="spacingAndGlyphs">0.0</text>
<text x="13.50" y="905.40" font-size="4.15" text-anchor="end" transform="rotate(0.03 13.50 905.40)" fill="#000" stroke="#000" stroke-width="0.16" textLength="6.3" lengthAdjust="spacingAndGlyphs">0.2</text>
<text x="13.50" y="887.40" font-size="4.15" text-anchor="end" transform="rotate(0.03 13.50 887.40)" fill="#000" stroke="#000" stroke-width="0.16" textLength="6.3" lengthAdjust="spacingAndGlyphs">0.4</text>
<text x="13.50" y="869.40" font-size="4.15" text-anchor="end" transform="rotate(0.03 13.50 869.40)" fill="#000" stroke="#000" stroke-width="0.16" textLength="6.3" lengthAdjust="spacingAndGlyphs">0.6</text>
<text x="13.50" y="851.40" font-size="4.15" text-anchor="end" transform="rotate(0.03 13.50 851.40)" fill="#000" stroke="#000" stroke-width="0.16" textLength="6.3" lengthAdjust="spacingAndGlyphs">0.8</text>
<text x="13.50" y="833.40" font-size="4.15" text-anchor="end" transform="rotate(0.03 13.50 833.40)" fill="#000" stroke="#000" stroke-width="0.16" textLength="6.3" lengthAdjust="spacingAndGlyphs">1.0</text>
<path d="M17.90 831.30V922.30M15.30 921.80H17.90M15.30 903.80H17.90M15.30 885.80H17.90M15.30 867.80H17.90M15.30 849.80H17.90M15.30 831.80H17.90" stroke="#1a1a1a" stroke-width="1.15" fill="none"/>
<text x="4.00" y="876.80" font-size="5.7" text-anchor="middle" transform="rotate(-90 4.00 876.80)" stroke="#000" stroke-width="0.06">PPV</text>
<text x="29.70" y="932.80" font-size="4.4" text-anchor="start" transform="rotate(-90 29.70 932.80)" stroke="#000" stroke-width="0.24" textLength="6.3" lengthAdjust="spacing">#1</text>
<text x="44.33" y="932.80" font-size="4.4" text-anchor="start" transform="rotate(-90 44.33 932.80)" stroke="#000" stroke-width="0.24" textLength="6.3" lengthAdjust="spacing">#2</text>
<text x="58.96" y="932.80" font-size="4.4" text-anchor="start" transform="rotate(-90 58.96 932.80)" stroke="#000" stroke-width="0.24" textLength="6.3" lengthAdjust="spacing">#3</text>
<text x="73.59" y="932.80" font-size="4.4" text-anchor="start" transform="rotate(-90 73.59 932.80)" stroke="#000" stroke-width="0.24" textLength="6.3" lengthAdjust="spacing">#4</text>
<text x="88.22" y="932.80" font-size="4.4" text-anchor="start" transform="rotate(-90 88.22 932.80)" stroke="#000" stroke-width="0.24" textLength="6.3" lengthAdjust="spacing">#5</text>
<text x="103.00" y="926.40" font-size="4.75" text-anchor="end" transform="rotate(-90 103.00 926.40)" stroke="#000" stroke-width="0.24">MutationTaster</text>
<text x="117.63" y="926.40" font-size="4.75" text-anchor="end" transform="rotate(-90 117.63 926.40)" stroke="#000" stroke-width="0.24">CanDrA (lung)</text>
<rect x="156.70" y="832.88" width="12.2" height="89.22" fill="#ee4540"/>
<path d="M162.80 831.80V833.96M160.90 831.80h3.8M160.90 833.96h3.8" stroke="#0a0a0a" stroke-width="1.05" fill="none"/>
<rect x="171.33" y="832.88" width="12.2" height="89.22" fill="#ee4540"/>
<path d="M177.43 831.80V833.96M175.53 831.80h3.8M175.53 833.96h3.8" stroke="#0a0a0a" stroke-width="1.05" fill="none"/>
<rect x="185.96" y="832.88" width="12.2" height="89.22" fill="#ee4540"/>
<path d="M192.06 831.80V833.96M190.16 831.80h3.8M190.16 833.96h3.8" stroke="#0a0a0a" stroke-width="1.05" fill="none"/>
<rect x="200.59" y="840.26" width="12.2" height="81.84" fill="#ee4540"/>
<path d="M206.69 836.84V843.68M204.79 836.84h3.8M204.79 843.68h3.8" stroke="#0a0a0a" stroke-width="1.05" fill="none"/>
<rect x="215.22" y="837.92" width="12.2" height="84.18" fill="#ee4540"/>
<path d="M221.32 834.50V841.34M219.42 834.50h3.8M219.42 841.34h3.8" stroke="#0a0a0a" stroke-width="1.05" fill="none"/>
<rect x="229.85" y="854.03" width="12.2" height="68.07" fill="#3e47ac"/>
<path d="M235.95 847.01V861.05M234.05 847.01h3.8M234.05 861.05h3.8" stroke="#0a0a0a" stroke-width="1.05" fill="none"/>
<rect x="244.48" y="857.72" width="12.2" height="64.38" fill="#f9a61c"/>
<path d="M250.58 850.97V864.47M248.68 850.97h3.8M248.68 864.47h3.8" stroke="#0a0a0a" stroke-width="1.05" fill="none"/>
<text x="148.00" y="923.40" font-size="4.15" text-anchor="end" transform="rotate(0.03 148.00 923.40)" fill="#000" stroke="#000" stroke-width="0.16" textLength="6.3" lengthAdjust="spacingAndGlyphs">0.0</text>
<text x="148.00" y="905.40" font-size="4.15" text-anchor="end" transform="rotate(0.03 148.00 905.40)" fill="#000" stroke="#000" stroke-width="0.16" textLength="6.3" lengthAdjust="spacingAndGlyphs">0.2</text>
<text x="148.00" y="887.40" font-size="4.15" text-anchor="end" transform="rotate(0.03 148.00 887.40)" fill="#000" stroke="#000" stroke-width="0.16" textLength="6.3" lengthAdjust="spacingAndGlyphs">0.4</text>
<text x="148.00" y="869.40" font-size="4.15" text-anchor="end" transform="rotate(0.03 148.00 869.40)" fill="#000" stroke="#000" stroke-width="0.16" textLength="6.3" lengthAdjust="spacingAndGlyphs">0.6</text>
<text x="148.00" y="851.40" font-size="4.15" text-anchor="end" transform="rotate(0.03 148.00 851.40)" fill="#000" stroke="#000" stroke-width="0.16" textLength="6.3" lengthAdjust="spacingAndGlyphs">0.8</text>
<text x="148.00" y="833.40" font-size="4.15" text-anchor="end" transform="rotate(0.03 148.00 833.40)" fill="#000" stroke="#000" stroke-width="0.16" textLength="6.3" lengthAdjust="spacingAndGlyphs">1.0</text>
<path d="M152.40 831.30V922.30M149.80 921.80H152.40M149.80 903.80H152.40M149.80 885.80H152.40M149.80 867.80H152.40M149.80 849.80H152.40M149.80 831.80H152.40" stroke="#1a1a1a" stroke-width="1.15" fill="none"/>
<text x="138.50" y="876.80" font-size="5.7" text-anchor="middle" transform="rotate(-90 138.50 876.80)" stroke="#000" stroke-width="0.06">NPV</text>
<text x="164.35" y="932.80" font-size="4.4" text-anchor="start" transform="rotate(-90 164.35 932.80)" stroke="#000" stroke-width="0.24" textLength="6.3" lengthAdjust="spacing">#1</text>
<text x="178.98" y="932.80" font-size="4.4" text-anchor="start" transform="rotate(-90 178.98 932.80)" stroke="#000" stroke-width="0.24" textLength="6.3" lengthAdjust="spacing">#2</text>
<text x="193.61" y="932.80" font-size="4.4" text-anchor="start" transform="rotate(-90 193.61 932.80)" stroke="#000" stroke-width="0.24" textLength="6.3" lengthAdjust="spacing">#3</text>
<text x="208.24" y="932.80" font-size="4.4" text-anchor="start" transform="rotate(-90 208.24 932.80)" stroke="#000" stroke-width="0.24" textLength="6.3" lengthAdjust="spacing">#4</text>
<text x="222.87" y="932.80" font-size="4.4" text-anchor="start" transform="rotate(-90 222.87 932.80)" stroke="#000" stroke-width="0.24" textLength="6.3" lengthAdjust="spacing">#5</text>
<text x="237.65" y="926.40" font-size="4.75" text-anchor="end" transform="rotate(-90 237.65 926.40)" stroke="#000" stroke-width="0.24">MutationTaster</text>
<text x="252.28" y="926.40" font-size="4.75" text-anchor="end" transform="rotate(-90 252.28 926.40)" stroke="#000" stroke-width="0.24">CanDrA (lung)</text>
<polygon points="163.00,817.00 165.50,821.40 160.50,821.40" fill="#f6ad2e"/>
<polygon points="177.63,817.00 180.13,821.40 175.13,821.40" fill="#f6ad2e"/>
<polygon points="192.26,817.00 194.76,821.40 189.76,821.40" fill="#f6ad2e"/>
<polygon points="206.89,817.00 209.39,821.40 204.39,821.40" fill="#f6ad2e"/>
<polygon points="221.52,817.00 224.02,821.40 219.02,821.40" fill="#f6ad2e"/>
<polygon points="163.00,823.30 165.50,827.70 160.50,827.70" fill="#3a3a9a"/>
<polygon points="177.63,823.30 180.13,827.70 175.13,827.70" fill="#3a3a9a"/>
<polygon points="192.26,823.30 194.76,827.70 189.76,827.70" fill="#3a3a9a"/>
<polygon points="206.89,823.30 209.39,827.70 204.39,827.70" fill="#3a3a9a"/>
<polygon points="221.52,823.30 224.02,827.70 219.02,827.70" fill="#3a3a9a"/>
<rect x="327.45" y="569.18" width="12.2" height="83.82" fill="#ee4540"/>
<path d="M333.55 565.58V572.78M331.65 565.58h3.8M331.65 572.78h3.8" stroke="#0a0a0a" stroke-width="1.05" fill="none"/>
<rect x="342.08" y="570.17" width="12.2" height="82.83" fill="#ee4540"/>
<path d="M348.18 566.30V574.04M346.28 566.30h3.8M346.28 574.04h3.8" stroke="#0a0a0a" stroke-width="1.05" fill="none"/>
<rect x="356.71" y="570.17" width="12.2" height="82.83" fill="#ee4540"/>
<path d="M362.81 566.30V574.04M360.91 566.30h3.8M360.91 574.04h3.8" stroke="#0a0a0a" stroke-width="1.05" fill="none"/>
<rect x="371.34" y="570.62" width="12.2" height="82.38" fill="#ee4540"/>
<path d="M377.44 566.75V574.49M375.54 566.75h3.8M375.54 574.49h3.8" stroke="#0a0a0a" stroke-width="1.05" fill="none"/>
<rect x="385.97" y="570.62" width="12.2" height="82.38" fill="#ee4540"/>
<path d="M392.07 567.02V574.22M390.17 567.02h3.8M390.17 574.22h3.8" stroke="#0a0a0a" stroke-width="1.05" fill="none"/>
<rect x="400.60" y="576.11" width="12.2" height="76.89" fill="#3e47ac"/>
<path d="M406.70 572.51V579.71M404.80 572.51h3.8M404.80 579.71h3.8" stroke="#0a0a0a" stroke-width="1.05" fill="none"/>
<rect x="415.23" y="576.11" width="12.2" height="76.89" fill="#f9a61c"/>
<path d="M421.33 572.69V579.53M419.43 572.69h3.8M419.43 579.53h3.8" stroke="#0a0a0a" stroke-width="1.05" fill="none"/>
<text x="319.00" y="654.30" font-size="4.15" text-anchor="end" transform="rotate(0.03 319.00 654.30)" fill="#000" stroke="#000" stroke-width="0.16" textLength="6.3" lengthAdjust="spacingAndGlyphs">0.0</text>
<text x="319.00" y="636.30" font-size="4.15" text-anchor="end" transform="rotate(0.03 319.00 636.30)" fill="#000" stroke="#000" stroke-width="0.16" textLength="6.3" lengthAdjust="spacingAndGlyphs">0.2</text>
<text x="319.00" y="618.30" font-size="4.15" text-anchor="end" transform="rotate(0.03 319.00 618.30)" fill="#000" stroke="#000" stroke-width="0.16" textLength="6.3" lengthAdjust="spacingAndGlyphs">0.4</text>
<text x="319.00" y="600.30" font-size="4.15" text-anchor="end" transform="rotate(0.03 319.00 600.30)" fill="#000" stroke="#000" stroke-width="0.16" textLength="6.3" lengthAdjust="spacingAndGlyphs">0.6</text>
<text x="319.00" y="582.30" font-size="4.15" text-anchor="end" transform="rotate(0.03 319.00 582.30)" fill="#000" stroke="#000" stroke-width="0.16" textLength="6.3" lengthAdjust="spacingAndGlyphs">0.8</text>
<text x="319.00" y="564.30" font-size="4.15" text-anchor="end" transform="rotate(0.03 319.00 564.30)" fill="#000" stroke="#000" stroke-width="0.16" textLength="6.3" lengthAdjust="spacingAndGlyphs">1.0</text>
<path d="M323.40 562.20V653.20M320.80 652.70H323.40M320.80 634.70H323.40M320.80 616.70H323.40M320.80 598.70H323.40M320.80 580.70H323.40M320.80 562.70H323.40" stroke="#1a1a1a" stroke-width="1.15" fill="none"/>
<text x="309.50" y="607.70" font-size="5.7" text-anchor="middle" transform="rotate(-90 309.50 607.70)" stroke="#000" stroke-width="0.06">Accuracy</text>
<text x="335.10" y="663.70" font-size="4.4" text-anchor="start" transform="rotate(-90 335.10 663.70)" stroke="#000" stroke-width="0.24" textLength="6.3" lengthAdjust="spacing">#1</text>
<text x="349.73" y="663.70" font-size="4.4" text-anchor="start" transform="rotate(-90 349.73 663.70)" stroke="#000" stroke-width="0.24" textLength="6.3" lengthAdjust="spacing">#2</text>
<text x="364.36" y="663.70" font-size="4.4" text-anchor="start" transform="rotate(-90 364.36 663.70)" stroke="#000" stroke-width="0.24" textLength="6.3" lengthAdjust="spacing">#3</text>
<text x="378.99" y="663.70" font-size="4.4" text-anchor="start" transform="rotate(-90 378.99 663.70)" stroke="#000" stroke-width="0.24" textLength="6.3" lengthAdjust="spacing">#4</text>
<text x="393.62" y="663.70" font-size="4.4" text-anchor="start" transform="rotate(-90 393.62 663.70)" stroke="#000" stroke-width="0.24" textLength="6.3" lengthAdjust="spacing">#5</text>
<text x="408.40" y="657.30" font-size="4.75" text-anchor="end" transform="rotate(-90 408.40 657.30)" stroke="#000" stroke-width="0.24">MutationTaster</text>
<text x="423.03" y="657.30" font-size="4.75" text-anchor="end" transform="rotate(-90 423.03 657.30)" stroke="#000" stroke-width="0.24">CanDrA (lung)</text>
<rect x="462.15" y="569.23" width="12.2" height="83.78" fill="#ee4540"/>
<path d="M468.25 565.62V572.83M466.35 565.62h3.8M466.35 572.83h3.8" stroke="#0a0a0a" stroke-width="1.05" fill="none"/>
<rect x="476.78" y="570.12" width="12.2" height="82.88" fill="#ee4540"/>
<path d="M482.88 565.85V574.40M480.98 565.85h3.8M480.98 574.40h3.8" stroke="#0a0a0a" stroke-width="1.05" fill="none"/>
<rect x="491.41" y="570.12" width="12.2" height="82.88" fill="#ee4540"/>
<path d="M497.51 565.62V574.62M495.61 565.62h3.8M495.61 574.62h3.8" stroke="#0a0a0a" stroke-width="1.05" fill="none"/>
<rect x="506.04" y="570.80" width="12.2" height="82.20" fill="#ee4540"/>
<path d="M512.14 567.43V574.18M510.24 567.43h3.8M510.24 574.18h3.8" stroke="#0a0a0a" stroke-width="1.05" fill="none"/>
<rect x="520.67" y="570.80" width="12.2" height="82.20" fill="#ee4540"/>
<path d="M526.77 567.43V574.18M524.87 567.43h3.8M524.87 574.18h3.8" stroke="#0a0a0a" stroke-width="1.05" fill="none"/>
<rect x="535.30" y="577.33" width="12.2" height="75.67" fill="#3e47ac"/>
<path d="M541.40 573.28V581.38M539.50 573.28h3.8M539.50 581.38h3.8" stroke="#0a0a0a" stroke-width="1.05" fill="none"/>
<rect x="549.93" y="576.20" width="12.2" height="76.80" fill="#f9a61c"/>
<path d="M556.03 573.05V579.35M554.13 573.05h3.8M554.13 579.35h3.8" stroke="#0a0a0a" stroke-width="1.05" fill="none"/>
<text x="453.50" y="654.30" font-size="4.15" text-anchor="end" transform="rotate(0.03 453.50 654.30)" fill="#000" stroke="#000" stroke-width="0.16" textLength="2.6" lengthAdjust="spacingAndGlyphs">0</text>
<text x="453.50" y="631.80" font-size="4.15" text-anchor="end" transform="rotate(0.03 453.50 631.80)" fill="#000" stroke="#000" stroke-width="0.16" textLength="2.6" lengthAdjust="spacingAndGlyphs">1</text>
<text x="453.50" y="609.30" font-size="4.15" text-anchor="end" transform="rotate(0.03 453.50 609.30)" fill="#000" stroke="#000" stroke-width="0.16" textLength="2.6" lengthAdjust="spacingAndGlyphs">2</text>
<text x="453.50" y="586.80" font-size="4.15" text-anchor="end" transform="rotate(0.03 453.50 586.80)" fill="#000" stroke="#000" stroke-width="0.16" textLength="2.6" lengthAdjust="spacingAndGlyphs">3</text>
<text x="453.50" y="564.30" font-size="4.15" text-anchor="end" transform="rotate(0.03 453.50 564.30)" fill="#000" stroke="#000" stroke-width="0.16" textLength="2.6" lengthAdjust="spacingAndGlyphs">4</text>
<path d="M457.90 562.20V653.20M455.30 652.70H457.90M455.30 630.20H457.90M455.30 607.70H457.90M455.30 585.20H457.90M455.30 562.70H457.90" stroke="#1a1a1a" stroke-width="1.15" fill="none"/>
<text x="444.00" y="607.70" font-size="5.7" text-anchor="middle" transform="rotate(-90 444.00 607.70)" stroke="#000" stroke-width="0.06">Composite</text>
<text x="469.80" y="663.70" font-size="4.4" text-anchor="start" transform="rotate(-90 469.80 663.70)" stroke="#000" stroke-width="0.24" textLength="6.3" lengthAdjust="spacing">#1</text>
<text x="484.43" y="663.70" font-size="4.4" text-anchor="start" transform="rotate(-90 484.43 663.70)" stroke="#000" stroke-width="0.24" textLength="6.3" lengthAdjust="spacing">#2</text>
<text x="499.06" y="663.70" font-size="4.4" text-anchor="start" transform="rotate(-90 499.06 663.70)" stroke="#000" stroke-width="0.24" textLength="6.3" lengthAdjust="spacing">#3</text>
<text x="513.69" y="663.70" font-size="4.4" text-anchor="start" transform="rotate(-90 513.69 663.70)" stroke="#000" stroke-width="0.24" textLength="6.3" lengthAdjust="spacing">#4</text>
<text x="528.32" y="663.70" font-size="4.4" text-anchor="start" transform="rotate(-90 528.32 663.70)" stroke="#000" stroke-width="0.24" textLength="6.3" lengthAdjust="spacing">#5</text>
<text x="543.10" y="657.30" font-size="4.75" text-anchor="end" transform="rotate(-90 543.10 657.30)" stroke="#000" stroke-width="0.24">MutationTaster</text>
<text x="557.73" y="657.30" font-size="4.75" text-anchor="end" transform="rotate(-90 557.73 657.30)" stroke="#000" stroke-width="0.24">CanDrA (lung)</text>
<polygon points="468.45,556.55 469.33,558.19 471.16,558.52 469.88,559.86 470.13,561.71 468.45,560.90 466.77,561.71 467.02,559.86 465.74,558.52 467.57,558.19" fill="#3a3a9a"/>
<rect x="327.45" y="698.12" width="12.2" height="89.58" fill="#ee4540"/>
<path d="M333.55 697.58V698.66M331.65 697.58h3.8M331.65 698.66h3.8" stroke="#0a0a0a" stroke-width="1.05" fill="none"/>
<rect x="342.08" y="700.37" width="12.2" height="87.33" fill="#ee4540"/>
<path d="M348.18 697.22V703.52M346.28 697.22h3.8M346.28 703.52h3.8" stroke="#0a0a0a" stroke-width="1.05" fill="none"/>
<rect x="356.71" y="702.35" width="12.2" height="85.35" fill="#ee4540"/>
<path d="M362.81 698.39V706.31M360.91 698.39h3.8M360.91 706.31h3.8" stroke="#0a0a0a" stroke-width="1.05" fill="none"/>
<rect x="371.34" y="698.12" width="12.2" height="89.58" fill="#ee4540"/>
<path d="M377.44 697.58V698.66M375.54 697.58h3.8M375.54 698.66h3.8" stroke="#0a0a0a" stroke-width="1.05" fill="none"/>
<rect x="385.97" y="698.12" width="12.2" height="89.58" fill="#ee4540"/>
<path d="M392.07 697.58V698.66M390.17 697.58h3.8M390.17 698.66h3.8" stroke="#0a0a0a" stroke-width="1.05" fill="none"/>
<rect x="400.60" y="711.62" width="12.2" height="76.08" fill="#3e47ac"/>
<path d="M406.70 706.49V716.75M404.80 706.49h3.8M404.80 716.75h3.8" stroke="#0a0a0a" stroke-width="1.05" fill="none"/>
<rect x="415.23" y="716.12" width="12.2" height="71.58" fill="#f9a61c"/>
<path d="M421.33 711.17V721.07M419.43 711.17h3.8M419.43 721.07h3.8" stroke="#0a0a0a" stroke-width="1.05" fill="none"/>
<text x="319.00" y="789.00" font-size="4.15" text-anchor="end" transform="rotate(0.03 319.00 789.00)" fill="#000" stroke="#000" stroke-width="0.16" textLength="6.3" lengthAdjust="spacingAndGlyphs">0.0</text>
<text x="319.00" y="771.00" font-size="4.15" text-anchor="end" transform="rotate(0.03 319.00 771.00)" fill="#000" stroke="#000" stroke-width="0.16" textLength="6.3" lengthAdjust="spacingAndGlyphs">0.2</text>
<text x="319.00" y="753.00" font-size="4.15" text-anchor="end" transform="rotate(0.03 319.00 753.00)" fill="#000" stroke="#000" stroke-width="0.16" textLength="6.3" lengthAdjust="spacingAndGlyphs">0.4</text>
<text x="319.00" y="735.00" font-size="4.15" text-anchor="end" transform="rotate(0.03 319.00 735.00)" fill="#000" stroke="#000" stroke-width="0.16" textLength="6.3" lengthAdjust="spacingAndGlyphs">0.6</text>
<text x="319.00" y="717.00" font-size="4.15" text-anchor="end" transform="rotate(0.03 319.00 717.00)" fill="#000" stroke="#000" stroke-width="0.16" textLength="6.3" lengthAdjust="spacingAndGlyphs">0.8</text>
<text x="319.00" y="699.00" font-size="4.15" text-anchor="end" transform="rotate(0.03 319.00 699.00)" fill="#000" stroke="#000" stroke-width="0.16" textLength="6.3" lengthAdjust="spacingAndGlyphs">1.0</text>
<path d="M323.40 696.90V787.90M320.80 787.40H323.40M320.80 769.40H323.40M320.80 751.40H323.40M320.80 733.40H323.40M320.80 715.40H323.40M320.80 697.40H323.40" stroke="#1a1a1a" stroke-width="1.15" fill="none"/>
<text x="309.50" y="742.40" font-size="5.7" text-anchor="middle" transform="rotate(-90 309.50 742.40)" stroke="#000" stroke-width="0.06">Sensitivity</text>
<text x="335.10" y="798.40" font-size="4.4" text-anchor="start" transform="rotate(-90 335.10 798.40)" stroke="#000" stroke-width="0.24" textLength="6.3" lengthAdjust="spacing">#1</text>
<text x="349.73" y="798.40" font-size="4.4" text-anchor="start" transform="rotate(-90 349.73 798.40)" stroke="#000" stroke-width="0.24" textLength="6.3" lengthAdjust="spacing">#2</text>
<text x="364.36" y="798.40" font-size="4.4" text-anchor="start" transform="rotate(-90 364.36 798.40)" stroke="#000" stroke-width="0.24" textLength="6.3" lengthAdjust="spacing">#3</text>
<text x="378.99" y="798.40" font-size="4.4" text-anchor="start" transform="rotate(-90 378.99 798.40)" stroke="#000" stroke-width="0.24" textLength="6.3" lengthAdjust="spacing">#4</text>
<text x="393.62" y="798.40" font-size="4.4" text-anchor="start" transform="rotate(-90 393.62 798.40)" stroke="#000" stroke-width="0.24" textLength="6.3" lengthAdjust="spacing">#5</text>
<text x="408.40" y="792.00" font-size="4.75" text-anchor="end" transform="rotate(-90 408.40 792.00)" stroke="#000" stroke-width="0.24">MutationTaster</text>
<text x="423.03" y="792.00" font-size="4.75" text-anchor="end" transform="rotate(-90 423.03 792.00)" stroke="#000" stroke-width="0.24">CanDrA (lung)</text>
<rect x="462.15" y="713.33" width="12.2" height="74.37" fill="#ee4540"/>
<path d="M468.25 704.33V722.33M466.35 704.33h3.8M466.35 722.33h3.8" stroke="#0a0a0a" stroke-width="1.05" fill="none"/>
<rect x="476.78" y="711.62" width="12.2" height="76.08" fill="#ee4540"/>
<path d="M482.88 703.25V719.99M480.98 703.25h3.8M480.98 719.99h3.8" stroke="#0a0a0a" stroke-width="1.05" fill="none"/>
<rect x="491.41" y="709.10" width="12.2" height="78.60" fill="#ee4540"/>
<path d="M497.51 701.99V716.21M495.61 701.99h3.8M495.61 716.21h3.8" stroke="#0a0a0a" stroke-width="1.05" fill="none"/>
<rect x="506.04" y="717.92" width="12.2" height="69.78" fill="#ee4540"/>
<path d="M512.14 708.20V727.64M510.24 708.20h3.8M510.24 727.64h3.8" stroke="#0a0a0a" stroke-width="1.05" fill="none"/>
<rect x="520.67" y="717.92" width="12.2" height="69.78" fill="#ee4540"/>
<path d="M526.77 707.84V728.00M524.87 707.84h3.8M524.87 728.00h3.8" stroke="#0a0a0a" stroke-width="1.05" fill="none"/>
<rect x="535.30" y="710.36" width="12.2" height="77.34" fill="#3e47ac"/>
<path d="M541.40 704.42V716.30M539.50 704.42h3.8M539.50 716.30h3.8" stroke="#0a0a0a" stroke-width="1.05" fill="none"/>
<rect x="549.93" y="702.35" width="12.2" height="85.35" fill="#f9a61c"/>
<path d="M556.03 698.39V706.31M554.13 698.39h3.8M554.13 706.31h3.8" stroke="#0a0a0a" stroke-width="1.05" fill="none"/>
<text x="453.50" y="789.00" font-size="4.15" text-anchor="end" transform="rotate(0.03 453.50 789.00)" fill="#000" stroke="#000" stroke-width="0.16" textLength="6.3" lengthAdjust="spacingAndGlyphs">0.0</text>
<text x="453.50" y="771.00" font-size="4.15" text-anchor="end" transform="rotate(0.03 453.50 771.00)" fill="#000" stroke="#000" stroke-width="0.16" textLength="6.3" lengthAdjust="spacingAndGlyphs">0.2</text>
<text x="453.50" y="753.00" font-size="4.15" text-anchor="end" transform="rotate(0.03 453.50 753.00)" fill="#000" stroke="#000" stroke-width="0.16" textLength="6.3" lengthAdjust="spacingAndGlyphs">0.4</text>
<text x="453.50" y="735.00" font-size="4.15" text-anchor="end" transform="rotate(0.03 453.50 735.00)" fill="#000" stroke="#000" stroke-width="0.16" textLength="6.3" lengthAdjust="spacingAndGlyphs">0.6</text>
<text x="453.50" y="717.00" font-size="4.15" text-anchor="end" transform="rotate(0.03 453.50 717.00)" fill="#000" stroke="#000" stroke-width="0.16" textLength="6.3" lengthAdjust="spacingAndGlyphs">0.8</text>
<text x="453.50" y="699.00" font-size="4.15" text-anchor="end" transform="rotate(0.03 453.50 699.00)" fill="#000" stroke="#000" stroke-width="0.16" textLength="6.3" lengthAdjust="spacingAndGlyphs">1.0</text>
<path d="M457.90 696.90V787.90M455.30 787.40H457.90M455.30 769.40H457.90M455.30 751.40H457.90M455.30 733.40H457.90M455.30 715.40H457.90M455.30 697.40H457.90" stroke="#1a1a1a" stroke-width="1.15" fill="none"/>
<text x="444.00" y="742.40" font-size="5.7" text-anchor="middle" transform="rotate(-90 444.00 742.40)" stroke="#000" stroke-width="0.06">Specificity</text>
<text x="469.80" y="798.40" font-size="4.4" text-anchor="start" transform="rotate(-90 469.80 798.40)" stroke="#000" stroke-width="0.24" textLength="6.3" lengthAdjust="spacing">#1</text>
<text x="484.43" y="798.40" font-size="4.4" text-anchor="start" transform="rotate(-90 484.43 798.40)" stroke="#000" stroke-width="0.24" textLength="6.3" lengthAdjust="spacing">#2</text>
<text x="499.06" y="798.40" font-size="4.4" text-anchor="start" transform="rotate(-90 499.06 798.40)" stroke="#000" stroke-width="0.24" textLength="6.3" lengthAdjust="spacing">#3</text>
<text x="513.69" y="798.40" font-size="4.4" text-anchor="start" transform="rotate(-90 513.69 798.40)" stroke="#000" stroke-width="0.24" textLength="6.3" lengthAdjust="spacing">#4</text>
<text x="528.32" y="798.40" font-size="4.4" text-anchor="start" transform="rotate(-90 528.32 798.40)" stroke="#000" stroke-width="0.24" textLength="6.3" lengthAdjust="spacing">#5</text>
<text x="543.10" y="792.00" font-size="4.75" text-anchor="end" transform="rotate(-90 543.10 792.00)" stroke="#000" stroke-width="0.24">MutationTaster</text>
<text x="557.73" y="792.00" font-size="4.75" text-anchor="end" transform="rotate(-90 557.73 792.00)" stroke="#000" stroke-width="0.24">CanDrA (lung)</text>
<rect x="327.45" y="840.80" width="12.2" height="81.30" fill="#ee4540"/>
<path d="M333.55 835.94V845.66M331.65 835.94h3.8M331.65 845.66h3.8" stroke="#0a0a0a" stroke-width="1.05" fill="none"/>
<rect x="342.08" y="839.54" width="12.2" height="82.56" fill="#ee4540"/>
<path d="M348.18 834.32V844.76M346.28 834.32h3.8M346.28 844.76h3.8" stroke="#0a0a0a" stroke-width="1.05" fill="none"/>
<rect x="356.71" y="838.28" width="12.2" height="83.82" fill="#ee4540"/>
<path d="M362.81 833.96V842.60M360.91 833.96h3.8M360.91 842.60h3.8" stroke="#0a0a0a" stroke-width="1.05" fill="none"/>
<rect x="371.34" y="842.60" width="12.2" height="79.50" fill="#ee4540"/>
<path d="M377.44 837.20V848.00M375.54 837.20h3.8M375.54 848.00h3.8" stroke="#0a0a0a" stroke-width="1.05" fill="none"/>
<rect x="385.97" y="842.60" width="12.2" height="79.50" fill="#ee4540"/>
<path d="M392.07 837.20V848.00M390.17 837.20h3.8M390.17 848.00h3.8" stroke="#0a0a0a" stroke-width="1.05" fill="none"/>
<rect x="400.60" y="840.53" width="12.2" height="81.57" fill="#3e47ac"/>
<path d="M406.70 836.57V844.49M404.80 836.57h3.8M404.80 844.49h3.8" stroke="#0a0a0a" stroke-width="1.05" fill="none"/>
<rect x="415.23" y="835.31" width="12.2" height="86.79" fill="#f9a61c"/>
<path d="M421.33 832.79V837.83M419.43 832.79h3.8M419.43 837.83h3.8" stroke="#0a0a0a" stroke-width="1.05" fill="none"/>
<text x="319.00" y="923.40" font-size="4.15" text-anchor="end" transform="rotate(0.03 319.00 923.40)" fill="#000" stroke="#000" stroke-width="0.16" textLength="6.3" lengthAdjust="spacingAndGlyphs">0.0</text>
<text x="319.00" y="905.40" font-size="4.15" text-anchor="end" transform="rotate(0.03 319.00 905.40)" fill="#000" stroke="#000" stroke-width="0.16" textLength="6.3" lengthAdjust="spacingAndGlyphs">0.2</text>
<text x="319.00" y="887.40" font-size="4.15" text-anchor="end" transform="rotate(0.03 319.00 887.40)" fill="#000" stroke="#000" stroke-width="0.16" textLength="6.3" lengthAdjust="spacingAndGlyphs">0.4</text>
<text x="319.00" y="869.40" font-size="4.15" text-anchor="end" transform="rotate(0.03 319.00 869.40)" fill="#000" stroke="#000" stroke-width="0.16" textLength="6.3" lengthAdjust="spacingAndGlyphs">0.6</text>
<text x="319.00" y="851.40" font-size="4.15" text-anchor="end" transform="rotate(0.03 319.00 851.40)" fill="#000" stroke="#000" stroke-width="0.16" textLength="6.3" lengthAdjust="spacingAndGlyphs">0.8</text>
<text x="319.00" y="833.40" font-size="4.15" text-anchor="end" transform="rotate(0.03 319.00 833.40)" fill="#000" stroke="#000" stroke-width="0.16" textLength="6.3" lengthAdjust="spacingAndGlyphs">1.0</text>
<path d="M323.40 831.30V922.30M320.80 921.80H323.40M320.80 903.80H323.40M320.80 885.80H323.40M320.80 867.80H323.40M320.80 849.80H323.40M320.80 831.80H323.40" stroke="#1a1a1a" stroke-width="1.15" fill="none"/>
<text x="309.50" y="876.80" font-size="5.7" text-anchor="middle" transform="rotate(-90 309.50 876.80)" stroke="#000" stroke-width="0.06">PPV</text>
<text x="335.10" y="932.80" font-size="4.4" text-anchor="start" transform="rotate(-90 335.10 932.80)" stroke="#000" stroke-width="0.24" textLength="6.3" lengthAdjust="spacing">#1</text>
<text x="349.73" y="932.80" font-size="4.4" text-anchor="start" transform="rotate(-90 349.73 932.80)" stroke="#000" stroke-width="0.24" textLength="6.3" lengthAdjust="spacing">#2</text>
<text x="364.36" y="932.80" font-size="4.4" text-anchor="start" transform="rotate(-90 364.36 932.80)" stroke="#000" stroke-width="0.24" textLength="6.3" lengthAdjust="spacing">#3</text>
<text x="378.99" y="932.80" font-size="4.4" text-anchor="start" transform="rotate(-90 378.99 932.80)" stroke="#000" stroke-width="0.24" textLength="6.3" lengthAdjust="spacing">#4</text>
<text x="393.62" y="932.80" font-size="4.4" text-anchor="start" transform="rotate(-90 393.62 932.80)" stroke="#000" stroke-width="0.24" textLength="6.3" lengthAdjust="spacing">#5</text>
<text x="408.40" y="926.40" font-size="4.75" text-anchor="end" transform="rotate(-90 408.40 926.40)" stroke="#000" stroke-width="0.24">MutationTaster</text>
<text x="423.03" y="926.40" font-size="4.75" text-anchor="end" transform="rotate(-90 423.03 926.40)" stroke="#000" stroke-width="0.24">CanDrA (lung)</text>
<rect x="462.15" y="833.15" width="12.2" height="88.95" fill="#ee4540"/>
<path d="M468.25 830.90V835.40M466.35 830.90h3.8M466.35 835.40h3.8" stroke="#0a0a0a" stroke-width="1.05" fill="none"/>
<rect x="476.78" y="837.92" width="12.2" height="84.18" fill="#ee4540"/>
<path d="M482.88 831.35V844.49M480.98 831.35h3.8M480.98 844.49h3.8" stroke="#0a0a0a" stroke-width="1.05" fill="none"/>
<rect x="491.41" y="840.35" width="12.2" height="81.75" fill="#ee4540"/>
<path d="M497.51 833.51V847.19M495.61 833.51h3.8M495.61 847.19h3.8" stroke="#0a0a0a" stroke-width="1.05" fill="none"/>
<rect x="506.04" y="833.15" width="12.2" height="88.95" fill="#ee4540"/>
<path d="M512.14 830.90V835.40M510.24 830.90h3.8M510.24 835.40h3.8" stroke="#0a0a0a" stroke-width="1.05" fill="none"/>
<rect x="520.67" y="833.15" width="12.2" height="88.95" fill="#ee4540"/>
<path d="M526.77 830.90V835.40M524.87 830.90h3.8M524.87 835.40h3.8" stroke="#0a0a0a" stroke-width="1.05" fill="none"/>
<rect x="535.30" y="854.12" width="12.2" height="67.98" fill="#3e47ac"/>
<path d="M541.40 847.10V861.14M539.50 847.10h3.8M539.50 861.14h3.8" stroke="#0a0a0a" stroke-width="1.05" fill="none"/>
<rect x="549.93" y="857.99" width="12.2" height="64.11" fill="#f9a61c"/>
<path d="M556.03 851.24V864.74M554.13 851.24h3.8M554.13 864.74h3.8" stroke="#0a0a0a" stroke-width="1.05" fill="none"/>
<text x="453.50" y="923.40" font-size="4.15" text-anchor="end" transform="rotate(0.03 453.50 923.40)" fill="#000" stroke="#000" stroke-width="0.16" textLength="6.3" lengthAdjust="spacingAndGlyphs">0.0</text>
<text x="453.50" y="905.40" font-size="4.15" text-anchor="end" transform="rotate(0.03 453.50 905.40)" fill="#000" stroke="#000" stroke-width="0.16" textLength="6.3" lengthAdjust="spacingAndGlyphs">0.2</text>
<text x="453.50" y="887.40" font-size="4.15" text-anchor="end" transform="rotate(0.03 453.50 887.40)" fill="#000" stroke="#000" stroke-width="0.16" textLength="6.3" lengthAdjust="spacingAndGlyphs">0.4</text>
<text x="453.50" y="869.40" font-size="4.15" text-anchor="end" transform="rotate(0.03 453.50 869.40)" fill="#000" stroke="#000" stroke-width="0.16" textLength="6.3" lengthAdjust="spacingAndGlyphs">0.6</text>
<text x="453.50" y="851.40" font-size="4.15" text-anchor="end" transform="rotate(0.03 453.50 851.40)" fill="#000" stroke="#000" stroke-width="0.16" textLength="6.3" lengthAdjust="spacingAndGlyphs">0.8</text>
<text x="453.50" y="833.40" font-size="4.15" text-anchor="end" transform="rotate(0.03 453.50 833.40)" fill="#000" stroke="#000" stroke-width="0.16" textLength="6.3" lengthAdjust="spacingAndGlyphs">1.0</text>
<path d="M457.90 831.30V922.30M455.30 921.80H457.90M455.30 903.80H457.90M455.30 885.80H457.90M455.30 867.80H457.90M455.30 849.80H457.90M455.30 831.80H457.90" stroke="#1a1a1a" stroke-width="1.15" fill="none"/>
<text x="444.00" y="876.80" font-size="5.7" text-anchor="middle" transform="rotate(-90 444.00 876.80)" stroke="#000" stroke-width="0.06">NPV</text>
<text x="469.80" y="932.80" font-size="4.4" text-anchor="start" transform="rotate(-90 469.80 932.80)" stroke="#000" stroke-width="0.24" textLength="6.3" lengthAdjust="spacing">#1</text>
<text x="484.43" y="932.80" font-size="4.4" text-anchor="start" transform="rotate(-90 484.43 932.80)" stroke="#000" stroke-width="0.24" textLength="6.3" lengthAdjust="spacing">#2</text>
<text x="499.06" y="932.80" font-size="4.4" text-anchor="start" transform="rotate(-90 499.06 932.80)" stroke="#000" stroke-width="0.24" textLength="6.3" lengthAdjust="spacing">#3</text>
<text x="513.69" y="932.80" font-size="4.4" text-anchor="start" transform="rotate(-90 513.69 932.80)" stroke="#000" stroke-width="0.24" textLength="6.3" lengthAdjust="spacing">#4</text>
<text x="528.32" y="932.80" font-size="4.4" text-anchor="start" transform="rotate(-90 528.32 932.80)" stroke="#000" stroke-width="0.24" textLength="6.3" lengthAdjust="spacing">#5</text>
<text x="543.10" y="926.40" font-size="4.75" text-anchor="end" transform="rotate(-90 543.10 926.40)" stroke="#000" stroke-width="0.24">MutationTaster</text>
<text x="557.73" y="926.40" font-size="4.75" text-anchor="end" transform="rotate(-90 557.73 926.40)" stroke="#000" stroke-width="0.24">CanDrA (lung)</text>
<polygon points="468.45,817.00 470.95,821.40 465.95,821.40" fill="#f6ad2e"/>
<polygon points="483.08,817.00 485.58,821.40 480.58,821.40" fill="#f6ad2e"/>
<polygon points="497.71,817.00 500.21,821.40 495.21,821.40" fill="#f6ad2e"/>
<polygon points="512.34,817.00 514.84,821.40 509.84,821.40" fill="#f6ad2e"/>
<polygon points="526.97,817.00 529.47,821.40 524.47,821.40" fill="#f6ad2e"/>
<polygon points="468.45,823.30 470.95,827.70 465.95,827.70" fill="#3a3a9a"/>
<polygon points="483.08,823.30 485.58,827.70 480.58,827.70" fill="#3a3a9a"/>
<polygon points="512.34,823.30 514.84,827.70 509.84,827.70" fill="#3a3a9a"/>
<polygon points="526.97,823.30 529.47,827.70 524.47,827.70" fill="#3a3a9a"/>
<text x="261.00" y="7.80" font-size="11" text-anchor="start" transform="rotate(0.03 261.00 7.80)" textLength="43.9">All SNVs</text>
<text x="229.80" y="519.90" font-size="11" text-anchor="start" transform="rotate(0.03 229.80 519.90)" textLength="100.5">Non-COSMIC SNVs</text>
<text x="115.50" y="34.30" font-size="10" text-anchor="start" transform="rotate(0.03 115.50 34.30)">Subset 1</text>
<text x="421.70" y="34.30" font-size="10" text-anchor="start" transform="rotate(0.03 421.70 34.30)">Subset 2</text>
<text x="118.10" y="544.90" font-size="10" text-anchor="start" transform="rotate(0.03 118.10 544.90)">Subset 1</text>
<text x="421.70" y="544.90" font-size="10" text-anchor="start" transform="rotate(0.03 421.70 544.90)">Subset 2</text>
<text x="0.60" y="41.30" font-size="20" text-anchor="start" transform="rotate(0.03 0.60 41.30)">A</text>
<text x="304.50" y="41.30" font-size="20" text-anchor="start" transform="rotate(0.03 304.50 41.30)">B</text>
<text x="-0.20" y="549.70" font-size="20" text-anchor="start" transform="rotate(0.03 -0.20 549.70)">C</text>
<text x="303.70" y="549.90" font-size="20" text-anchor="start" transform="rotate(0.03 303.70 549.90)">D</text>
<text x="16.90" y="469.90" font-size="4.69" text-anchor="start" transform="rotate(0.03 16.90 469.90)" stroke="#000" stroke-width="0.18">#1: At least 1 of CHASM (breast), MutationTaster</text>
<text x="16.90" y="475.28" font-size="4.69" text-anchor="start" transform="rotate(0.03 16.90 475.28)" stroke="#000" stroke-width="0.18">#2: At least 2 of CHASM (breast), CHASM (lung), MutationTaster, SIFT</text>
<text x="16.90" y="480.66" font-size="4.69" text-anchor="start" transform="rotate(0.03 16.90 480.66)" stroke="#000" stroke-width="0.18">#3: At least 1 of CHASM (breast), CHASM (lung), MutationTaster</text>
<text x="16.90" y="486.04" font-size="4.69" text-anchor="start" transform="rotate(0.03 16.90 486.04)" stroke="#000" stroke-width="0.18">#4: At least 1 of CHASM (lung), MutationTaster</text>
<text x="16.90" y="491.42" font-size="4.69" text-anchor="start" transform="rotate(0.03 16.90 491.42)" stroke="#000" stroke-width="0.18">#5: At least 2 of CHASM (breast), CHASM (lung), Mutation Assessor, MutationTaster</text>
<text x="327.80" y="469.90" font-size="4.69" text-anchor="start" transform="rotate(0.03 327.80 469.90)" stroke="#000" stroke-width="0.18">#1: At least 1 of CHASM (breast), MutationTaster</text>
<text x="327.80" y="475.28" font-size="4.69" text-anchor="start" transform="rotate(0.03 327.80 475.28)" stroke="#000" stroke-width="0.18">#2: At least 1 of CHASM (breast), CHASM (lung), MutationTaster</text>
<text x="327.80" y="480.66" font-size="4.69" text-anchor="start" transform="rotate(0.03 327.80 480.66)" stroke="#000" stroke-width="0.18">#3: At least 1 of CHASM (lung), MutationTaster</text>
<text x="327.80" y="486.04" font-size="4.69" text-anchor="start" transform="rotate(0.03 327.80 486.04)" stroke="#000" stroke-width="0.18">#4: At least 2 of CHASM (breast), CHASM (lung), MutationTaster, SIFT</text>
<text x="327.80" y="491.42" font-size="4.69" text-anchor="start" transform="rotate(0.03 327.80 491.42)" stroke="#000" stroke-width="0.18">#5: At least 2 of CHASM (breast), CHASM (lung), Mutation Assessor, MutationTaster</text>
<text x="16.90" y="968.90" font-size="4.69" text-anchor="start" transform="rotate(0.03 16.90 968.90)" stroke="#000" stroke-width="0.18">#1: At least 1 of CHASM (breast), MutationTaster</text>
<text x="16.90" y="974.12" font-size="4.69" text-anchor="start" transform="rotate(0.03 16.90 974.12)" stroke="#000" stroke-width="0.18">#2: At least 1 of CHASM (breast), CHASM (lung), MutationTaster</text>
<text x="16.90" y="979.34" font-size="4.69" text-anchor="start" transform="rotate(0.03 16.90 979.34)" stroke="#000" stroke-width="0.18">#3: At least 1 of CHASM (lung), MutationTaster</text>
<text x="16.90" y="984.56" font-size="4.69" text-anchor="start" transform="rotate(0.03 16.90 984.56)" stroke="#000" stroke-width="0.18">#4: At least 2 of CHASM (breast), CHASM (lung), Mutation Assessor, MutationTaster</text>
<text x="16.90" y="989.78" font-size="4.69" text-anchor="start" transform="rotate(0.03 16.90 989.78)" stroke="#000" stroke-width="0.18">#5: At least 2 of CHASM (breast), CHASM (lung), MutationTaster, SIFT</text>
<text x="327.80" y="968.90" font-size="4.69" text-anchor="start" transform="rotate(0.03 327.80 968.90)" stroke="#000" stroke-width="0.18">#1: At least 1 of CHASM (breast), MutationTaster</text>
<text x="327.80" y="974.12" font-size="4.69" text-anchor="start" transform="rotate(0.03 327.80 974.12)" stroke="#000" stroke-width="0.18">#2: At least 2 of CHASM (breast), CHASM (lung), MutationTaster, SIFT</text>
<text x="327.80" y="979.34" font-size="4.69" text-anchor="start" transform="rotate(0.03 327.80 979.34)" stroke="#000" stroke-width="0.18">#3: At least 2 of CHASM (breast), CHASM (lung), Mutation Assessor, MutationTaster</text>
<text x="327.80" y="984.56" font-size="4.69" text-anchor="start" transform="rotate(0.03 327.80 984.56)" stroke="#000" stroke-width="0.18">#4: At least 1 of CHASM (breast), CHASM (lung), MutationTaster</text>
<text x="327.80" y="989.78" font-size="4.69" text-anchor="start" transform="rotate(0.03 327.80 989.78)" stroke="#000" stroke-width="0.18">#5: At least 1 of CHASM (lung), MutationTaster</text>
</svg>
</body></html>
